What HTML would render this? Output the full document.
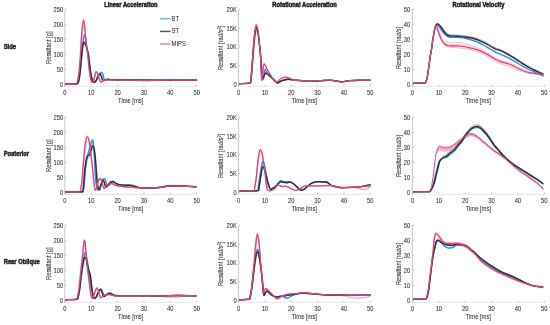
<!DOCTYPE html><html><head><meta charset="utf-8"><title>Figure</title>
<style>html,body{margin:0;padding:0;background:#fff;}svg{display:block;}text{font-family:'Liberation Sans', Arial, Helvetica, sans-serif;fill:#2e2e2e;stroke:#2e2e2e;stroke-width:0.05px;}</style></head><body>
<svg width="550" height="325" viewBox="0 0 550 325">
<rect width="550" height="325" fill="#fff"/>
<text transform="translate(130.90 7.40) scale(1 1.170)" font-size="5.80" text-anchor="middle" font-weight="bold" style="stroke-width:0.4px;fill:#1c1c1c;stroke:#1c1c1c">Linear Acceleration</text>
<text transform="translate(304.50 7.40) scale(1 1.170)" font-size="5.80" text-anchor="middle" font-weight="bold" style="stroke-width:0.4px;fill:#1c1c1c;stroke:#1c1c1c">Rotational Acceleration</text>
<text transform="translate(478.50 7.40) scale(1 1.170)" font-size="5.80" text-anchor="middle" font-weight="bold" style="stroke-width:0.4px;fill:#1c1c1c;stroke:#1c1c1c">Rotational Velocity</text>
<text transform="translate(3.70 48.60) scale(1 1.170)" font-size="5.80" font-weight="bold" style="stroke-width:0.4px;fill:#1c1c1c;stroke:#1c1c1c">Side</text>
<text transform="translate(3.70 155.60) scale(1 1.170)" font-size="5.80" font-weight="bold" style="stroke-width:0.4px;fill:#1c1c1c;stroke:#1c1c1c">Posterior</text>
<text transform="translate(3.70 263.60) scale(1 1.170)" font-size="5.80" font-weight="bold" style="stroke-width:0.4px;fill:#1c1c1c;stroke:#1c1c1c">Rear Oblique</text>
<path d="M64.80 86.40H197.00" fill="none" stroke="#e6e6e6" stroke-width="0.9"/>
<path d="M64.80 9.10V86.80" fill="none" stroke="#c8c8c8" stroke-width="1.0"/>
<path d="M65.20 84.20h1.3M65.20 69.20h1.3M65.20 54.20h1.3M65.20 39.20h1.3M65.20 24.20h1.3M65.20 9.20h1.3M64.90 86.10v-1.3M91.26 86.10v-1.3M117.62 86.10v-1.3M143.98 86.10v-1.3M170.34 86.10v-1.3M196.70 86.10v-1.3" fill="none" stroke="#a8a8a8" stroke-width="0.8"/>
<text transform="translate(63.20 86.80) scale(1 1.170)" font-size="5.80" text-anchor="end">0</text>
<text transform="translate(63.20 71.80) scale(1 1.170)" font-size="5.80" text-anchor="end">50</text>
<text transform="translate(63.20 56.80) scale(1 1.170)" font-size="5.80" text-anchor="end">100</text>
<text transform="translate(63.20 41.80) scale(1 1.170)" font-size="5.80" text-anchor="end">150</text>
<text transform="translate(63.20 26.80) scale(1 1.170)" font-size="5.80" text-anchor="end">200</text>
<text transform="translate(63.20 11.80) scale(1 1.170)" font-size="5.80" text-anchor="end">250</text>
<text transform="translate(64.90 95.30) scale(1 1.170)" font-size="5.80" text-anchor="middle">0</text>
<text transform="translate(91.26 95.30) scale(1 1.170)" font-size="5.80" text-anchor="middle">10</text>
<text transform="translate(117.62 95.30) scale(1 1.170)" font-size="5.80" text-anchor="middle">20</text>
<text transform="translate(143.98 95.30) scale(1 1.170)" font-size="5.80" text-anchor="middle">30</text>
<text transform="translate(170.34 95.30) scale(1 1.170)" font-size="5.80" text-anchor="middle">40</text>
<text transform="translate(196.70 95.30) scale(1 1.170)" font-size="5.80" text-anchor="middle">50</text>
<text transform="translate(130.70 102.50) scale(1 1.170)" font-size="5.80" text-anchor="middle">Time [ms]</text>
<text transform="translate(51.40 47.70) rotate(-90) scale(1 1.170)" font-size="5.80" text-anchor="middle">Resultant [g]</text>
<path d="M238.40 86.40H370.60" fill="none" stroke="#e6e6e6" stroke-width="0.9"/>
<path d="M238.40 9.10V86.80" fill="none" stroke="#c8c8c8" stroke-width="1.0"/>
<path d="M238.80 84.20h1.3M238.80 65.45h1.3M238.80 46.70h1.3M238.80 27.95h1.3M238.80 9.20h1.3M238.50 86.10v-1.3M264.86 86.10v-1.3M291.22 86.10v-1.3M317.58 86.10v-1.3M343.94 86.10v-1.3M370.30 86.10v-1.3" fill="none" stroke="#a8a8a8" stroke-width="0.8"/>
<text transform="translate(236.80 86.80) scale(1 1.170)" font-size="5.80" text-anchor="end">0</text>
<text transform="translate(236.80 68.05) scale(1 1.170)" font-size="5.80" text-anchor="end">5K</text>
<text transform="translate(236.80 49.30) scale(1 1.170)" font-size="5.80" text-anchor="end">10K</text>
<text transform="translate(236.80 30.55) scale(1 1.170)" font-size="5.80" text-anchor="end">15K</text>
<text transform="translate(236.80 11.80) scale(1 1.170)" font-size="5.80" text-anchor="end">20K</text>
<text transform="translate(238.50 95.30) scale(1 1.170)" font-size="5.80" text-anchor="middle">0</text>
<text transform="translate(264.86 95.30) scale(1 1.170)" font-size="5.80" text-anchor="middle">10</text>
<text transform="translate(291.22 95.30) scale(1 1.170)" font-size="5.80" text-anchor="middle">20</text>
<text transform="translate(317.58 95.30) scale(1 1.170)" font-size="5.80" text-anchor="middle">30</text>
<text transform="translate(343.94 95.30) scale(1 1.170)" font-size="5.80" text-anchor="middle">40</text>
<text transform="translate(370.30 95.30) scale(1 1.170)" font-size="5.80" text-anchor="middle">50</text>
<text transform="translate(304.30 102.50) scale(1 1.170)" font-size="5.80" text-anchor="middle">Time [ms]</text>
<text transform="translate(223.40 47.90) rotate(-90) scale(1 1.170)" font-size="5.80" text-anchor="middle">Resultant [rad/s<tspan font-size="4.06" dy="-2">2</tspan><tspan dy="2">]</tspan></text>
<path d="M412.40 86.40H544.60" fill="none" stroke="#e6e6e6" stroke-width="0.9"/>
<path d="M412.40 9.10V86.80" fill="none" stroke="#c8c8c8" stroke-width="1.0"/>
<path d="M412.80 84.20h1.3M412.80 69.20h1.3M412.80 54.20h1.3M412.80 39.20h1.3M412.80 24.20h1.3M412.80 9.20h1.3M412.50 86.10v-1.3M438.86 86.10v-1.3M465.22 86.10v-1.3M491.58 86.10v-1.3M517.94 86.10v-1.3M544.30 86.10v-1.3" fill="none" stroke="#a8a8a8" stroke-width="0.8"/>
<text transform="translate(410.30 86.80) scale(1 1.170)" font-size="5.80" text-anchor="end">0</text>
<text transform="translate(410.30 71.80) scale(1 1.170)" font-size="5.80" text-anchor="end">10</text>
<text transform="translate(410.30 56.80) scale(1 1.170)" font-size="5.80" text-anchor="end">20</text>
<text transform="translate(410.30 41.80) scale(1 1.170)" font-size="5.80" text-anchor="end">30</text>
<text transform="translate(410.30 26.80) scale(1 1.170)" font-size="5.80" text-anchor="end">40</text>
<text transform="translate(410.30 11.80) scale(1 1.170)" font-size="5.80" text-anchor="end">50</text>
<text transform="translate(412.50 95.30) scale(1 1.170)" font-size="5.80" text-anchor="middle">0</text>
<text transform="translate(438.86 95.30) scale(1 1.170)" font-size="5.80" text-anchor="middle">10</text>
<text transform="translate(465.22 95.30) scale(1 1.170)" font-size="5.80" text-anchor="middle">20</text>
<text transform="translate(491.58 95.30) scale(1 1.170)" font-size="5.80" text-anchor="middle">30</text>
<text transform="translate(517.94 95.30) scale(1 1.170)" font-size="5.80" text-anchor="middle">40</text>
<text transform="translate(544.30 95.30) scale(1 1.170)" font-size="5.80" text-anchor="middle">50</text>
<text transform="translate(478.30 102.50) scale(1 1.170)" font-size="5.80" text-anchor="middle">Time [ms]</text>
<text transform="translate(400.80 48.00) rotate(-90) scale(1 1.170)" font-size="5.80" text-anchor="middle">Resultant [rad/s]</text>
<path d="M64.80 194.40H197.00" fill="none" stroke="#e6e6e6" stroke-width="0.9"/>
<path d="M64.80 117.10V194.80" fill="none" stroke="#c8c8c8" stroke-width="1.0"/>
<path d="M65.20 192.20h1.3M65.20 177.20h1.3M65.20 162.20h1.3M65.20 147.20h1.3M65.20 132.20h1.3M65.20 117.20h1.3M64.90 194.10v-1.3M91.26 194.10v-1.3M117.62 194.10v-1.3M143.98 194.10v-1.3M170.34 194.10v-1.3M196.70 194.10v-1.3" fill="none" stroke="#a8a8a8" stroke-width="0.8"/>
<text transform="translate(63.20 194.80) scale(1 1.170)" font-size="5.80" text-anchor="end">0</text>
<text transform="translate(63.20 179.80) scale(1 1.170)" font-size="5.80" text-anchor="end">50</text>
<text transform="translate(63.20 164.80) scale(1 1.170)" font-size="5.80" text-anchor="end">100</text>
<text transform="translate(63.20 149.80) scale(1 1.170)" font-size="5.80" text-anchor="end">150</text>
<text transform="translate(63.20 134.80) scale(1 1.170)" font-size="5.80" text-anchor="end">200</text>
<text transform="translate(63.20 119.80) scale(1 1.170)" font-size="5.80" text-anchor="end">250</text>
<text transform="translate(64.90 203.30) scale(1 1.170)" font-size="5.80" text-anchor="middle">0</text>
<text transform="translate(91.26 203.30) scale(1 1.170)" font-size="5.80" text-anchor="middle">10</text>
<text transform="translate(117.62 203.30) scale(1 1.170)" font-size="5.80" text-anchor="middle">20</text>
<text transform="translate(143.98 203.30) scale(1 1.170)" font-size="5.80" text-anchor="middle">30</text>
<text transform="translate(170.34 203.30) scale(1 1.170)" font-size="5.80" text-anchor="middle">40</text>
<text transform="translate(196.70 203.30) scale(1 1.170)" font-size="5.80" text-anchor="middle">50</text>
<text transform="translate(130.70 210.50) scale(1 1.170)" font-size="5.80" text-anchor="middle">Time [ms]</text>
<text transform="translate(51.40 155.70) rotate(-90) scale(1 1.170)" font-size="5.80" text-anchor="middle">Resultant [g]</text>
<path d="M238.40 194.40H370.60" fill="none" stroke="#e6e6e6" stroke-width="0.9"/>
<path d="M238.40 117.10V194.80" fill="none" stroke="#c8c8c8" stroke-width="1.0"/>
<path d="M238.80 192.20h1.3M238.80 173.45h1.3M238.80 154.70h1.3M238.80 135.95h1.3M238.80 117.20h1.3M238.50 194.10v-1.3M264.86 194.10v-1.3M291.22 194.10v-1.3M317.58 194.10v-1.3M343.94 194.10v-1.3M370.30 194.10v-1.3" fill="none" stroke="#a8a8a8" stroke-width="0.8"/>
<text transform="translate(236.80 194.80) scale(1 1.170)" font-size="5.80" text-anchor="end">0</text>
<text transform="translate(236.80 176.05) scale(1 1.170)" font-size="5.80" text-anchor="end">5K</text>
<text transform="translate(236.80 157.30) scale(1 1.170)" font-size="5.80" text-anchor="end">10K</text>
<text transform="translate(236.80 138.55) scale(1 1.170)" font-size="5.80" text-anchor="end">15K</text>
<text transform="translate(236.80 119.80) scale(1 1.170)" font-size="5.80" text-anchor="end">20K</text>
<text transform="translate(238.50 203.30) scale(1 1.170)" font-size="5.80" text-anchor="middle">0</text>
<text transform="translate(264.86 203.30) scale(1 1.170)" font-size="5.80" text-anchor="middle">10</text>
<text transform="translate(291.22 203.30) scale(1 1.170)" font-size="5.80" text-anchor="middle">20</text>
<text transform="translate(317.58 203.30) scale(1 1.170)" font-size="5.80" text-anchor="middle">30</text>
<text transform="translate(343.94 203.30) scale(1 1.170)" font-size="5.80" text-anchor="middle">40</text>
<text transform="translate(370.30 203.30) scale(1 1.170)" font-size="5.80" text-anchor="middle">50</text>
<text transform="translate(304.30 210.50) scale(1 1.170)" font-size="5.80" text-anchor="middle">Time [ms]</text>
<text transform="translate(223.40 155.90) rotate(-90) scale(1 1.170)" font-size="5.80" text-anchor="middle">Resultant [rad/s<tspan font-size="4.06" dy="-2">2</tspan><tspan dy="2">]</tspan></text>
<path d="M412.40 194.40H544.60" fill="none" stroke="#e6e6e6" stroke-width="0.9"/>
<path d="M412.40 117.10V194.80" fill="none" stroke="#c8c8c8" stroke-width="1.0"/>
<path d="M412.80 192.20h1.3M412.80 177.20h1.3M412.80 162.20h1.3M412.80 147.20h1.3M412.80 132.20h1.3M412.80 117.20h1.3M412.50 194.10v-1.3M438.86 194.10v-1.3M465.22 194.10v-1.3M491.58 194.10v-1.3M517.94 194.10v-1.3M544.30 194.10v-1.3" fill="none" stroke="#a8a8a8" stroke-width="0.8"/>
<text transform="translate(410.30 194.80) scale(1 1.170)" font-size="5.80" text-anchor="end">0</text>
<text transform="translate(410.30 179.80) scale(1 1.170)" font-size="5.80" text-anchor="end">10</text>
<text transform="translate(410.30 164.80) scale(1 1.170)" font-size="5.80" text-anchor="end">20</text>
<text transform="translate(410.30 149.80) scale(1 1.170)" font-size="5.80" text-anchor="end">30</text>
<text transform="translate(410.30 134.80) scale(1 1.170)" font-size="5.80" text-anchor="end">40</text>
<text transform="translate(410.30 119.80) scale(1 1.170)" font-size="5.80" text-anchor="end">50</text>
<text transform="translate(412.50 203.30) scale(1 1.170)" font-size="5.80" text-anchor="middle">0</text>
<text transform="translate(438.86 203.30) scale(1 1.170)" font-size="5.80" text-anchor="middle">10</text>
<text transform="translate(465.22 203.30) scale(1 1.170)" font-size="5.80" text-anchor="middle">20</text>
<text transform="translate(491.58 203.30) scale(1 1.170)" font-size="5.80" text-anchor="middle">30</text>
<text transform="translate(517.94 203.30) scale(1 1.170)" font-size="5.80" text-anchor="middle">40</text>
<text transform="translate(544.30 203.30) scale(1 1.170)" font-size="5.80" text-anchor="middle">50</text>
<text transform="translate(478.30 210.50) scale(1 1.170)" font-size="5.80" text-anchor="middle">Time [ms]</text>
<text transform="translate(400.80 156.00) rotate(-90) scale(1 1.170)" font-size="5.80" text-anchor="middle">Resultant [rad/s]</text>
<path d="M64.80 302.40H197.00" fill="none" stroke="#e6e6e6" stroke-width="0.9"/>
<path d="M64.80 225.10V302.80" fill="none" stroke="#c8c8c8" stroke-width="1.0"/>
<path d="M65.20 300.20h1.3M65.20 285.20h1.3M65.20 270.20h1.3M65.20 255.20h1.3M65.20 240.20h1.3M65.20 225.20h1.3M64.90 302.10v-1.3M91.26 302.10v-1.3M117.62 302.10v-1.3M143.98 302.10v-1.3M170.34 302.10v-1.3M196.70 302.10v-1.3" fill="none" stroke="#a8a8a8" stroke-width="0.8"/>
<text transform="translate(63.20 302.80) scale(1 1.170)" font-size="5.80" text-anchor="end">0</text>
<text transform="translate(63.20 287.80) scale(1 1.170)" font-size="5.80" text-anchor="end">50</text>
<text transform="translate(63.20 272.80) scale(1 1.170)" font-size="5.80" text-anchor="end">100</text>
<text transform="translate(63.20 257.80) scale(1 1.170)" font-size="5.80" text-anchor="end">150</text>
<text transform="translate(63.20 242.80) scale(1 1.170)" font-size="5.80" text-anchor="end">200</text>
<text transform="translate(63.20 227.80) scale(1 1.170)" font-size="5.80" text-anchor="end">250</text>
<text transform="translate(64.90 311.30) scale(1 1.170)" font-size="5.80" text-anchor="middle">0</text>
<text transform="translate(91.26 311.30) scale(1 1.170)" font-size="5.80" text-anchor="middle">10</text>
<text transform="translate(117.62 311.30) scale(1 1.170)" font-size="5.80" text-anchor="middle">20</text>
<text transform="translate(143.98 311.30) scale(1 1.170)" font-size="5.80" text-anchor="middle">30</text>
<text transform="translate(170.34 311.30) scale(1 1.170)" font-size="5.80" text-anchor="middle">40</text>
<text transform="translate(196.70 311.30) scale(1 1.170)" font-size="5.80" text-anchor="middle">50</text>
<text transform="translate(130.70 318.50) scale(1 1.170)" font-size="5.80" text-anchor="middle">Time [ms]</text>
<text transform="translate(51.40 263.70) rotate(-90) scale(1 1.170)" font-size="5.80" text-anchor="middle">Resultant [g]</text>
<path d="M238.40 302.40H370.60" fill="none" stroke="#e6e6e6" stroke-width="0.9"/>
<path d="M238.40 225.10V302.80" fill="none" stroke="#c8c8c8" stroke-width="1.0"/>
<path d="M238.80 300.20h1.3M238.80 281.45h1.3M238.80 262.70h1.3M238.80 243.95h1.3M238.80 225.20h1.3M238.50 302.10v-1.3M264.86 302.10v-1.3M291.22 302.10v-1.3M317.58 302.10v-1.3M343.94 302.10v-1.3M370.30 302.10v-1.3" fill="none" stroke="#a8a8a8" stroke-width="0.8"/>
<text transform="translate(236.80 302.80) scale(1 1.170)" font-size="5.80" text-anchor="end">0</text>
<text transform="translate(236.80 284.05) scale(1 1.170)" font-size="5.80" text-anchor="end">5K</text>
<text transform="translate(236.80 265.30) scale(1 1.170)" font-size="5.80" text-anchor="end">10K</text>
<text transform="translate(236.80 246.55) scale(1 1.170)" font-size="5.80" text-anchor="end">15K</text>
<text transform="translate(236.80 227.80) scale(1 1.170)" font-size="5.80" text-anchor="end">20K</text>
<text transform="translate(238.50 311.30) scale(1 1.170)" font-size="5.80" text-anchor="middle">0</text>
<text transform="translate(264.86 311.30) scale(1 1.170)" font-size="5.80" text-anchor="middle">10</text>
<text transform="translate(291.22 311.30) scale(1 1.170)" font-size="5.80" text-anchor="middle">20</text>
<text transform="translate(317.58 311.30) scale(1 1.170)" font-size="5.80" text-anchor="middle">30</text>
<text transform="translate(343.94 311.30) scale(1 1.170)" font-size="5.80" text-anchor="middle">40</text>
<text transform="translate(370.30 311.30) scale(1 1.170)" font-size="5.80" text-anchor="middle">50</text>
<text transform="translate(304.30 318.50) scale(1 1.170)" font-size="5.80" text-anchor="middle">Time [ms]</text>
<text transform="translate(223.40 263.90) rotate(-90) scale(1 1.170)" font-size="5.80" text-anchor="middle">Resultant [rad/s<tspan font-size="4.06" dy="-2">2</tspan><tspan dy="2">]</tspan></text>
<path d="M412.40 302.40H544.60" fill="none" stroke="#e6e6e6" stroke-width="0.9"/>
<path d="M412.40 225.10V302.80" fill="none" stroke="#c8c8c8" stroke-width="1.0"/>
<path d="M412.80 300.20h1.3M412.80 285.20h1.3M412.80 270.20h1.3M412.80 255.20h1.3M412.80 240.20h1.3M412.80 225.20h1.3M412.50 302.10v-1.3M438.86 302.10v-1.3M465.22 302.10v-1.3M491.58 302.10v-1.3M517.94 302.10v-1.3M544.30 302.10v-1.3" fill="none" stroke="#a8a8a8" stroke-width="0.8"/>
<text transform="translate(410.30 302.80) scale(1 1.170)" font-size="5.80" text-anchor="end">0</text>
<text transform="translate(410.30 287.80) scale(1 1.170)" font-size="5.80" text-anchor="end">10</text>
<text transform="translate(410.30 272.80) scale(1 1.170)" font-size="5.80" text-anchor="end">20</text>
<text transform="translate(410.30 257.80) scale(1 1.170)" font-size="5.80" text-anchor="end">30</text>
<text transform="translate(410.30 242.80) scale(1 1.170)" font-size="5.80" text-anchor="end">40</text>
<text transform="translate(410.30 227.80) scale(1 1.170)" font-size="5.80" text-anchor="end">50</text>
<text transform="translate(412.50 311.30) scale(1 1.170)" font-size="5.80" text-anchor="middle">0</text>
<text transform="translate(438.86 311.30) scale(1 1.170)" font-size="5.80" text-anchor="middle">10</text>
<text transform="translate(465.22 311.30) scale(1 1.170)" font-size="5.80" text-anchor="middle">20</text>
<text transform="translate(491.58 311.30) scale(1 1.170)" font-size="5.80" text-anchor="middle">30</text>
<text transform="translate(517.94 311.30) scale(1 1.170)" font-size="5.80" text-anchor="middle">40</text>
<text transform="translate(544.30 311.30) scale(1 1.170)" font-size="5.80" text-anchor="middle">50</text>
<text transform="translate(478.30 318.50) scale(1 1.170)" font-size="5.80" text-anchor="middle">Time [ms]</text>
<text transform="translate(400.80 264.00) rotate(-90) scale(1 1.170)" font-size="5.80" text-anchor="middle">Resultant [rad/s]</text>
<path d="M65.25 83.90C69.32 83.90 73.38 83.90 77.45 83.90C77.92 83.90 78.38 82.53 78.85 81.14C79.32 79.76 79.78 76.06 80.25 72.59C80.75 68.89 81.25 63.10 81.75 58.34C82.18 54.23 82.62 49.32 83.05 46.00C83.42 43.19 83.78 40.08 84.15 38.87C84.38 38.10 84.62 37.26 84.85 37.26C85.15 37.26 85.45 38.61 85.75 39.82C86.08 41.17 86.42 44.61 86.75 46.95C87.12 49.52 87.48 52.29 87.85 54.55C88.25 57.01 88.65 58.79 89.05 61.20C89.48 63.80 89.92 67.16 90.35 69.75C90.82 72.52 91.28 75.67 91.75 77.34C92.25 79.14 92.75 80.81 93.25 81.34C93.85 81.96 94.45 82.48 95.05 82.48C95.52 82.48 95.98 81.75 96.45 81.14C96.98 80.46 97.52 78.92 98.05 77.82C98.72 76.45 99.38 74.12 100.05 73.73C100.72 73.35 101.38 73.07 102.05 73.07C102.45 73.07 102.85 74.31 103.25 75.25C103.68 76.28 104.12 79.45 104.55 79.72C105.12 80.08 105.68 80.29 106.25 80.29C106.92 80.29 107.58 79.25 108.25 79.25C109.25 79.25 110.25 80.10 111.25 80.10C112.58 80.10 113.92 79.62 115.25 79.62C116.92 79.62 118.58 80.28 120.25 80.29C145.92 80.38 171.58 80.35 197.25 80.38" fill="none" stroke="#86c0f2" stroke-width="0.6"/>
<path d="M64.80 83.90C68.87 83.90 72.93 83.90 77.00 83.90C77.47 83.90 77.93 82.43 78.40 80.93C78.87 79.43 79.33 75.44 79.80 71.70C80.30 67.70 80.80 61.45 81.30 56.33C81.73 51.89 82.17 46.59 82.60 43.00C82.97 39.97 83.33 36.62 83.70 35.32C83.93 34.49 84.17 33.57 84.40 33.57C84.70 33.57 85.00 35.03 85.30 36.34C85.63 37.79 85.97 41.50 86.30 44.03C86.67 46.80 87.03 49.79 87.40 52.23C87.80 54.89 88.20 56.81 88.60 59.40C89.03 62.21 89.47 65.84 89.90 68.63C90.37 71.63 90.83 75.02 91.30 76.83C91.80 78.76 92.30 80.57 92.80 81.13C93.40 81.81 94.00 82.36 94.60 82.36C95.07 82.36 95.53 81.58 96.00 80.93C96.53 80.18 97.07 78.53 97.60 77.34C98.27 75.86 98.93 73.34 99.60 72.93C100.27 72.52 100.93 72.22 101.60 72.22C102.00 72.22 102.40 73.55 102.80 74.57C103.23 75.68 103.67 79.09 104.10 79.39C104.67 79.78 105.23 80.00 105.80 80.00C106.47 80.00 107.13 78.88 107.80 78.88C108.80 78.88 109.80 79.80 110.80 79.80C112.13 79.80 113.47 79.29 114.80 79.29C116.47 79.29 118.13 80.00 119.80 80.00C145.47 80.10 171.13 80.07 196.80 80.11" fill="none" stroke="#86c0f2" stroke-width="0.6"/>
<path d="M65.30 83.90C69.37 83.90 73.43 83.90 77.50 83.90C78.00 83.90 78.50 82.57 79.00 81.17C79.43 79.96 79.87 76.86 80.30 73.65C80.70 70.69 81.10 65.34 81.50 61.43C81.87 57.85 82.23 53.69 82.60 51.09C82.90 48.97 83.20 46.64 83.50 45.92C83.77 45.29 84.03 44.70 84.30 44.70C84.63 44.70 84.97 45.27 85.30 45.74C85.83 46.49 86.37 48.16 86.90 49.68C87.50 51.40 88.10 52.95 88.70 55.89C89.17 58.17 89.63 63.67 90.10 67.07C90.57 70.48 91.03 74.44 91.50 76.47C91.93 78.37 92.37 79.94 92.80 80.70C93.30 81.59 93.80 82.49 94.30 82.49C94.90 82.49 95.50 81.82 96.10 81.17C96.77 80.46 97.43 77.98 98.10 76.94C98.73 75.96 99.37 74.59 100.00 74.59C100.53 74.59 101.07 75.56 101.60 76.47C102.07 77.27 102.53 80.70 103.00 80.70C103.60 80.70 104.20 80.61 104.80 80.52C105.63 80.39 106.47 79.67 107.30 79.67C109.97 79.67 112.63 80.12 115.30 80.14C142.63 80.37 169.97 80.33 197.30 80.42" fill="none" stroke="#8f8f8f" stroke-width="0.6"/>
<path d="M64.75 83.90C68.82 83.90 72.88 83.90 76.95 83.90C77.45 83.90 77.95 82.45 78.45 80.93C78.88 79.60 79.32 76.23 79.75 72.73C80.15 69.50 80.55 63.66 80.95 59.40C81.32 55.50 81.68 50.96 82.05 48.13C82.35 45.81 82.65 43.27 82.95 42.49C83.22 41.80 83.48 41.16 83.75 41.16C84.08 41.16 84.42 41.77 84.75 42.29C85.28 43.11 85.82 44.92 86.35 46.59C86.95 48.47 87.55 50.15 88.15 53.36C88.62 55.85 89.08 61.84 89.55 65.55C90.02 69.27 90.48 73.58 90.95 75.80C91.38 77.86 91.82 79.58 92.25 80.42C92.75 81.38 93.25 82.36 93.75 82.36C94.35 82.36 94.95 81.63 95.55 80.93C96.22 80.14 96.88 77.45 97.55 76.31C98.18 75.24 98.82 73.75 99.45 73.75C99.98 73.75 100.52 74.81 101.05 75.80C101.52 76.67 101.98 80.42 102.45 80.42C103.05 80.42 103.65 80.31 104.25 80.21C105.08 80.07 105.92 79.29 106.75 79.29C109.42 79.29 112.08 79.78 114.75 79.80C142.08 80.06 169.42 80.00 196.75 80.11" fill="none" stroke="#8f8f8f" stroke-width="0.6"/>
<path d="M65.35 83.90C69.08 83.90 72.82 83.90 76.55 83.90C76.98 83.90 77.42 82.47 77.85 81.20C78.28 79.93 78.72 77.61 79.15 74.69C79.65 71.33 80.15 65.17 80.65 58.88C81.02 54.27 81.38 46.80 81.75 42.14C82.15 37.06 82.55 31.51 82.95 29.12C83.28 27.14 83.62 24.94 83.95 24.94C84.25 24.94 84.55 26.57 84.85 28.19C85.18 30.00 85.52 36.08 85.85 39.35C86.15 42.30 86.45 44.93 86.75 47.26C87.18 50.62 87.62 52.75 88.05 56.19C88.52 59.89 88.98 65.78 89.45 69.39C89.92 73.01 90.38 76.69 90.85 78.60C91.22 80.10 91.58 81.60 91.95 81.95C92.28 82.26 92.62 82.51 92.95 82.51C93.55 82.51 94.15 79.61 94.75 77.95C95.35 76.29 95.95 72.46 96.55 72.46C97.08 72.46 97.62 73.68 98.15 74.69C98.72 75.77 99.28 78.66 99.85 79.81C100.35 80.82 100.85 82.13 101.35 82.13C101.95 82.13 102.55 81.48 103.15 81.20C103.92 80.85 104.68 80.30 105.45 80.27C107.08 80.21 108.72 80.18 110.35 80.18C117.02 80.18 123.68 80.33 130.35 80.46C136.02 80.56 141.68 80.92 147.35 80.92C151.68 80.92 156.02 80.27 160.35 80.27C172.68 80.27 185.02 80.40 197.35 80.46" fill="none" stroke="#ec8db2" stroke-width="0.6"/>
<path d="M64.80 83.90C68.53 83.90 72.27 83.90 76.00 83.90C76.43 83.90 76.87 82.34 77.30 80.94C77.73 79.55 78.17 77.00 78.60 73.80C79.10 70.11 79.60 63.36 80.10 56.46C80.47 51.41 80.83 43.21 81.20 38.10C81.60 32.53 82.00 26.44 82.40 23.82C82.73 21.64 83.07 19.23 83.40 19.23C83.70 19.23 84.00 21.02 84.30 22.80C84.63 24.78 84.97 31.46 85.30 35.04C85.60 38.27 85.90 41.16 86.20 43.71C86.63 47.40 87.07 49.73 87.50 53.50C87.97 57.56 88.43 64.02 88.90 67.99C89.37 71.95 89.83 75.99 90.30 78.09C90.67 79.74 91.03 81.38 91.40 81.76C91.73 82.10 92.07 82.37 92.40 82.37C93.00 82.37 93.60 79.19 94.20 77.37C94.80 75.55 95.40 71.35 96.00 71.35C96.53 71.35 97.07 72.69 97.60 73.80C98.17 74.98 98.73 78.15 99.30 79.41C99.80 80.53 100.30 81.96 100.80 81.96C101.40 81.96 102.00 81.24 102.60 80.94C103.37 80.56 104.13 79.96 104.90 79.92C106.53 79.85 108.17 79.82 109.80 79.82C116.47 79.82 123.13 79.99 129.80 80.13C135.47 80.24 141.13 80.64 146.80 80.64C151.13 80.64 155.47 79.92 159.80 79.92C172.13 79.92 184.47 80.06 196.80 80.13" fill="none" stroke="#ec8db2" stroke-width="0.6"/>
<path d="M65.00 83.90C69.07 83.90 73.13 83.90 77.20 83.90C77.67 83.90 78.13 82.46 78.60 81.00C79.07 79.54 79.53 75.64 80.00 72.00C80.50 68.10 81.00 62.00 81.50 57.00C81.93 52.67 82.37 47.50 82.80 44.00C83.17 41.04 83.53 37.77 83.90 36.50C84.13 35.69 84.37 34.80 84.60 34.80C84.90 34.80 85.20 36.22 85.50 37.50C85.83 38.92 86.17 42.54 86.50 45.00C86.87 47.71 87.23 50.62 87.60 53.00C88.00 55.59 88.40 57.47 88.80 60.00C89.23 62.74 89.67 66.28 90.10 69.00C90.57 71.93 91.03 75.24 91.50 77.00C92.00 78.89 92.50 80.65 93.00 81.20C93.60 81.86 94.20 82.40 94.80 82.40C95.27 82.40 95.73 81.64 96.20 81.00C96.73 80.27 97.27 78.66 97.80 77.50C98.47 76.05 99.13 73.60 99.80 73.20C100.47 72.80 101.13 72.50 101.80 72.50C102.20 72.50 102.60 73.80 103.00 74.80C103.43 75.88 103.87 79.21 104.30 79.50C104.87 79.88 105.43 80.10 106.00 80.10C106.67 80.10 107.33 79.00 108.00 79.00C109.00 79.00 110.00 79.90 111.00 79.90C112.33 79.90 113.67 79.40 115.00 79.40C116.67 79.40 118.33 80.09 120.00 80.10C145.67 80.19 171.33 80.17 197.00 80.20" fill="none" stroke="#2f8ae4" stroke-width="1.30" stroke-linejoin="round"/>
<path d="M65.00 83.90C69.07 83.90 73.13 83.90 77.20 83.90C77.70 83.90 78.20 82.49 78.70 81.00C79.13 79.71 79.57 76.41 80.00 73.00C80.40 69.85 80.80 64.16 81.20 60.00C81.57 56.19 81.93 51.76 82.30 49.00C82.60 46.74 82.90 44.26 83.20 43.50C83.47 42.82 83.73 42.20 84.00 42.20C84.33 42.20 84.67 42.80 85.00 43.30C85.53 44.10 86.07 45.87 86.60 47.50C87.20 49.33 87.80 50.97 88.40 54.10C88.87 56.53 89.33 62.38 89.80 66.00C90.27 69.62 90.73 73.83 91.20 76.00C91.63 78.01 92.07 79.69 92.50 80.50C93.00 81.44 93.50 82.40 94.00 82.40C94.60 82.40 95.20 81.69 95.80 81.00C96.47 80.24 97.13 77.60 97.80 76.50C98.43 75.45 99.07 74.00 99.70 74.00C100.23 74.00 100.77 75.03 101.30 76.00C101.77 76.85 102.23 80.50 102.70 80.50C103.30 80.50 103.90 80.40 104.50 80.30C105.33 80.16 106.17 79.40 107.00 79.40C109.67 79.40 112.33 79.88 115.00 79.90C142.33 80.15 169.67 80.10 197.00 80.20" fill="none" stroke="#303030" stroke-width="1.40" stroke-linejoin="round"/>
<path d="M65.00 83.90C68.73 83.90 72.47 83.90 76.20 83.90C76.63 83.90 77.07 82.37 77.50 81.00C77.93 79.63 78.37 77.14 78.80 74.00C79.30 70.38 79.80 63.76 80.30 57.00C80.67 52.04 81.03 44.01 81.40 39.00C81.80 33.54 82.20 27.56 82.60 25.00C82.93 22.86 83.27 20.50 83.60 20.50C83.90 20.50 84.20 22.25 84.50 24.00C84.83 25.94 85.17 32.48 85.50 36.00C85.80 39.16 86.10 41.99 86.40 44.50C86.83 48.12 87.27 50.40 87.70 54.10C88.17 58.08 88.63 64.41 89.10 68.30C89.57 72.19 90.03 76.14 90.50 78.20C90.87 79.82 91.23 81.43 91.60 81.80C91.93 82.13 92.27 82.40 92.60 82.40C93.20 82.40 93.80 79.28 94.40 77.50C95.00 75.72 95.60 71.60 96.20 71.60C96.73 71.60 97.27 72.91 97.80 74.00C98.37 75.16 98.93 78.26 99.50 79.50C100.00 80.59 100.50 82.00 101.00 82.00C101.60 82.00 102.20 81.29 102.80 81.00C103.57 80.62 104.33 80.03 105.10 80.00C106.73 79.93 108.37 79.90 110.00 79.90C116.67 79.90 123.33 80.07 130.00 80.20C135.67 80.31 141.33 80.70 147.00 80.70C151.33 80.70 155.67 80.00 160.00 80.00C172.33 80.00 184.67 80.13 197.00 80.20" fill="none" stroke="#e2447f" stroke-width="1.30" stroke-linejoin="round"/>
<path d="M239.25 83.70C242.78 83.54 246.32 83.62 249.85 83.23C250.18 83.19 250.52 82.97 250.85 82.56C251.18 82.15 251.52 76.67 251.85 73.16C252.18 69.64 252.52 65.29 252.85 61.19C253.15 57.49 253.45 53.22 253.75 49.79C254.12 45.59 254.48 41.21 254.85 38.39C255.18 35.82 255.52 33.43 255.85 32.21C256.15 31.11 256.45 29.84 256.75 29.84C257.05 29.84 257.35 30.82 257.65 31.73C257.98 32.75 258.32 35.16 258.65 37.44C258.98 39.72 259.32 43.15 259.65 45.98C259.95 48.53 260.25 50.43 260.55 53.59C260.78 56.04 261.02 60.13 261.25 63.09C261.52 66.47 261.78 70.69 262.05 72.59C262.55 76.13 263.05 79.71 263.55 79.71C263.88 79.71 264.22 73.93 264.55 72.59C264.85 71.37 265.15 70.02 265.45 70.02C265.88 70.02 266.32 71.37 266.75 72.11C267.25 72.97 267.75 74.21 268.25 74.87C269.08 75.96 269.92 76.69 270.75 77.34C271.75 78.11 272.75 78.39 273.75 79.23C274.42 79.80 275.08 80.99 275.75 81.61C276.45 82.26 277.15 83.23 277.85 83.23C278.65 83.23 279.45 82.31 280.25 81.89C281.15 81.43 282.05 80.81 282.95 80.57C284.78 80.07 286.62 79.62 288.45 79.62C290.62 79.62 292.78 80.07 294.95 80.28C297.38 80.51 299.82 80.78 302.25 80.95C305.22 81.15 308.18 81.42 311.15 81.42C314.18 81.42 317.22 80.99 320.25 80.85C323.68 80.69 327.12 80.47 330.55 80.47C332.45 80.47 334.35 81.00 336.25 81.23C338.32 81.48 340.38 81.90 342.45 81.90C344.95 81.90 347.45 80.88 349.95 80.76C353.38 80.59 356.82 80.47 360.25 80.47C363.75 80.47 367.25 80.47 370.75 80.47" fill="none" stroke="#86c0f2" stroke-width="0.6"/>
<path d="M238.80 83.70C242.33 83.53 245.87 83.61 249.40 83.19C249.73 83.15 250.07 82.92 250.40 82.47C250.73 82.02 251.07 76.11 251.40 72.32C251.73 68.53 252.07 63.84 252.40 59.41C252.70 55.42 253.00 50.81 253.30 47.11C253.67 42.58 254.03 37.86 254.40 34.81C254.73 32.04 255.07 29.47 255.40 28.15C255.70 26.96 256.00 25.58 256.30 25.58C256.60 25.58 256.90 26.64 257.20 27.63C257.53 28.73 257.87 31.32 258.20 33.78C258.53 36.24 258.87 39.95 259.20 43.01C259.50 45.76 259.80 47.80 260.10 51.21C260.33 53.85 260.57 58.26 260.80 61.46C261.07 65.11 261.33 69.67 261.60 71.71C262.10 75.53 262.60 79.39 263.10 79.39C263.43 79.39 263.77 73.16 264.10 71.71C264.40 70.40 264.70 68.94 265.00 68.94C265.43 68.94 265.87 70.39 266.30 71.19C266.80 72.12 267.30 73.46 267.80 74.17C268.63 75.35 269.47 76.13 270.30 76.83C271.30 77.67 272.30 77.97 273.30 78.88C273.97 79.49 274.63 80.77 275.30 81.44C276.00 82.15 276.70 83.19 277.40 83.19C278.20 83.19 279.00 82.20 279.80 81.75C280.70 81.25 281.60 80.58 282.50 80.32C284.33 79.78 286.17 79.29 288.00 79.29C290.17 79.29 292.33 79.78 294.50 80.01C296.93 80.26 299.37 80.55 301.80 80.73C304.77 80.94 307.73 81.24 310.70 81.24C313.73 81.24 316.77 80.78 319.80 80.62C323.23 80.45 326.67 80.22 330.10 80.22C332.00 80.22 333.90 80.79 335.80 81.04C337.87 81.30 339.93 81.75 342.00 81.75C344.50 81.75 347.00 80.65 349.50 80.52C352.93 80.34 356.37 80.22 359.80 80.22C363.30 80.22 366.80 80.22 370.30 80.22" fill="none" stroke="#86c0f2" stroke-width="0.6"/>
<path d="M239.30 83.70C242.83 83.54 246.37 83.62 249.90 83.23C250.23 83.19 250.57 82.98 250.90 82.57C251.23 82.16 251.57 76.74 251.90 73.27C252.23 69.79 252.57 65.48 252.90 61.42C253.20 57.77 253.50 53.54 253.80 50.14C254.17 45.99 254.53 41.52 254.90 38.86C255.23 36.45 255.57 34.40 255.90 33.22C256.20 32.16 256.50 30.87 256.80 30.87C257.10 30.87 257.40 31.87 257.70 32.75C258.03 33.74 258.37 35.78 258.70 37.92C259.03 40.06 259.37 43.58 259.70 46.38C260.00 48.90 260.30 50.78 260.60 53.90C260.83 56.33 261.07 60.17 261.30 63.30C261.53 66.44 261.77 70.81 262.00 72.70C262.37 75.67 262.73 78.81 263.10 78.81C263.57 78.81 264.03 76.85 264.50 75.99C264.97 75.14 265.43 73.64 265.90 73.64C266.37 73.64 266.83 74.14 267.30 74.39C267.93 74.74 268.57 74.99 269.20 75.43C269.90 75.91 270.60 76.74 271.30 77.40C272.13 78.19 272.97 78.97 273.80 79.75C274.47 80.38 275.13 81.12 275.80 81.63C276.37 82.07 276.93 82.76 277.50 82.76C278.43 82.76 279.37 82.09 280.30 81.73C281.20 81.37 282.10 80.86 283.00 80.60C284.83 80.07 286.67 79.47 288.50 79.47C290.67 79.47 292.83 80.13 295.00 80.32C297.43 80.53 299.87 80.62 302.30 80.79C305.27 80.99 308.23 81.44 311.20 81.44C314.23 81.44 317.27 81.06 320.30 80.88C323.73 80.68 327.17 80.32 330.60 80.32C332.50 80.32 334.40 80.81 336.30 81.07C338.37 81.35 340.43 81.91 342.50 81.91C345.00 81.91 347.50 80.94 350.00 80.79C353.43 80.58 356.87 80.46 360.30 80.41C363.80 80.36 367.30 80.35 370.80 80.32" fill="none" stroke="#8f8f8f" stroke-width="0.6"/>
<path d="M238.75 83.70C242.28 83.53 245.82 83.61 249.35 83.19C249.68 83.15 250.02 82.92 250.35 82.47C250.68 82.02 251.02 76.11 251.35 72.32C251.68 68.53 252.02 63.84 252.35 59.41C252.65 55.42 252.95 50.81 253.25 47.11C253.62 42.58 253.98 37.70 254.35 34.81C254.68 32.17 255.02 29.95 255.35 28.66C255.65 27.50 255.95 26.10 256.25 26.10C256.55 26.10 256.85 27.18 257.15 28.15C257.48 29.22 257.82 31.45 258.15 33.78C258.48 36.12 258.82 39.95 259.15 43.01C259.45 45.76 259.75 47.80 260.05 51.21C260.28 53.85 260.52 58.04 260.75 61.46C260.98 64.87 261.22 69.64 261.45 71.71C261.82 74.95 262.18 78.37 262.55 78.37C263.02 78.37 263.48 76.23 263.95 75.30C264.42 74.36 264.88 72.73 265.35 72.73C265.82 72.73 266.28 73.28 266.75 73.55C267.38 73.93 268.02 74.21 268.65 74.68C269.35 75.20 270.05 76.11 270.75 76.83C271.58 77.69 272.42 78.54 273.25 79.39C273.92 80.08 274.58 80.88 275.25 81.44C275.82 81.92 276.38 82.67 276.95 82.67C277.88 82.67 278.82 81.95 279.75 81.55C280.65 81.16 281.55 80.60 282.45 80.32C284.28 79.75 286.12 79.09 287.95 79.09C290.12 79.09 292.28 79.81 294.45 80.01C296.88 80.24 299.32 80.34 301.75 80.52C304.72 80.74 307.68 81.24 310.65 81.24C313.68 81.24 316.72 80.82 319.75 80.62C323.18 80.41 326.62 80.01 330.05 80.01C331.95 80.01 333.85 80.55 335.75 80.83C337.82 81.13 339.88 81.75 341.95 81.75C344.45 81.75 346.95 80.69 349.45 80.52C352.88 80.30 356.32 80.17 359.75 80.11C363.25 80.06 366.75 80.04 370.25 80.01" fill="none" stroke="#8f8f8f" stroke-width="0.6"/>
<path d="M239.35 83.70C242.85 83.55 246.35 83.62 249.85 83.23C250.18 83.20 250.52 82.99 250.85 82.58C251.18 82.18 251.52 76.81 251.85 73.38C252.18 69.94 252.52 65.68 252.85 61.66C253.15 58.04 253.45 54.00 253.75 50.50C254.12 46.22 254.48 41.40 254.85 38.41C255.18 35.69 255.52 33.29 255.85 31.90C256.15 30.65 256.45 29.11 256.75 29.11C257.05 29.11 257.35 30.36 257.65 31.43C257.98 32.63 258.32 35.14 258.65 37.48C258.98 39.82 259.32 43.10 259.65 45.85C259.92 48.05 260.18 49.46 260.45 52.36C260.68 54.89 260.92 59.14 261.15 63.52C261.32 66.65 261.48 71.70 261.65 74.68C261.78 77.06 261.92 80.72 262.05 80.72C262.32 80.72 262.58 78.50 262.85 76.54C263.08 74.83 263.32 69.32 263.55 68.17C263.88 66.52 264.22 65.19 264.55 65.19C264.98 65.19 265.42 66.11 265.85 66.77C266.35 67.54 266.85 69.01 267.35 69.94C268.58 72.23 269.82 74.04 271.05 75.89C272.28 77.74 273.52 80.18 274.75 81.10C275.52 81.66 276.28 82.31 277.05 82.31C277.65 82.31 278.25 81.48 278.85 81.00C279.65 80.37 280.45 79.21 281.25 78.86C282.78 78.20 284.32 77.66 285.85 77.66C287.38 77.66 288.92 78.40 290.45 78.86C291.98 79.33 293.52 80.43 295.05 80.54C297.48 80.72 299.92 80.70 302.35 80.82C305.32 80.96 308.28 81.47 311.25 81.47C314.28 81.47 317.32 81.08 320.35 80.91C323.78 80.71 327.22 80.35 330.65 80.35C332.55 80.35 334.45 80.84 336.35 81.10C338.42 81.37 340.48 81.93 342.55 81.93C345.05 81.93 347.55 80.97 350.05 80.82C353.48 80.61 356.92 80.49 360.35 80.45C363.85 80.40 367.35 80.38 370.85 80.35" fill="none" stroke="#ec8db2" stroke-width="0.6"/>
<path d="M238.80 83.70C242.30 83.53 245.80 83.61 249.30 83.19C249.63 83.15 249.97 82.92 250.30 82.48C250.63 82.03 250.97 76.15 251.30 72.38C251.63 68.61 251.97 63.93 252.30 59.53C252.60 55.56 252.90 51.13 253.20 47.29C253.57 42.59 253.93 37.30 254.30 34.03C254.63 31.05 254.97 28.41 255.30 26.89C255.60 25.51 255.90 23.83 256.20 23.83C256.50 23.83 256.80 25.19 257.10 26.38C257.43 27.69 257.77 30.44 258.10 33.01C258.43 35.57 258.77 39.17 259.10 42.19C259.37 44.60 259.63 46.15 259.90 49.33C260.13 52.10 260.37 56.76 260.60 61.57C260.77 65.00 260.93 70.53 261.10 73.81C261.23 76.42 261.37 80.44 261.50 80.44C261.77 80.44 262.03 77.99 262.30 75.85C262.53 73.97 262.77 67.93 263.00 66.67C263.33 64.86 263.67 63.40 264.00 63.40C264.43 63.40 264.87 64.41 265.30 65.14C265.80 65.98 266.30 67.58 266.80 68.60C268.03 71.12 269.27 73.10 270.50 75.13C271.73 77.16 272.97 79.84 274.20 80.84C274.97 81.47 275.73 82.17 276.50 82.17C277.10 82.17 277.70 81.26 278.30 80.74C279.10 80.04 279.90 78.77 280.70 78.40C282.23 77.67 283.77 77.07 285.30 77.07C286.83 77.07 288.37 77.88 289.90 78.40C291.43 78.91 292.97 80.11 294.50 80.23C296.93 80.43 299.37 80.41 301.80 80.54C304.77 80.70 307.73 81.25 310.70 81.25C313.73 81.25 316.77 80.83 319.80 80.64C323.23 80.42 326.67 80.03 330.10 80.03C332.00 80.03 333.90 80.57 335.80 80.84C337.87 81.14 339.93 81.76 342.00 81.76C344.50 81.76 347.00 80.70 349.50 80.54C352.93 80.31 356.37 80.18 359.80 80.13C363.30 80.08 366.80 80.06 370.30 80.03" fill="none" stroke="#ec8db2" stroke-width="0.6"/>
<path d="M239.00 83.70C242.53 83.53 246.07 83.61 249.60 83.20C249.93 83.16 250.27 82.94 250.60 82.50C250.93 82.06 251.27 76.30 251.60 72.60C251.93 68.90 252.27 64.32 252.60 60.00C252.90 56.11 253.20 51.61 253.50 48.00C253.87 43.59 254.23 38.97 254.60 36.00C254.93 33.30 255.27 30.79 255.60 29.50C255.90 28.34 256.20 27.00 256.50 27.00C256.80 27.00 257.10 28.03 257.40 29.00C257.73 30.07 258.07 32.60 258.40 35.00C258.73 37.40 259.07 41.02 259.40 44.00C259.70 46.68 260.00 48.68 260.30 52.00C260.53 54.58 260.77 58.88 261.00 62.00C261.27 65.56 261.53 70.01 261.80 72.00C262.30 75.73 262.80 79.50 263.30 79.50C263.63 79.50 263.97 73.42 264.30 72.00C264.60 70.72 264.90 69.30 265.20 69.30C265.63 69.30 266.07 70.72 266.50 71.50C267.00 72.40 267.50 73.71 268.00 74.40C268.83 75.56 269.67 76.32 270.50 77.00C271.50 77.82 272.50 78.11 273.50 79.00C274.17 79.59 274.83 80.84 275.50 81.50C276.20 82.19 276.90 83.20 277.60 83.20C278.40 83.20 279.20 82.24 280.00 81.80C280.90 81.31 281.80 80.66 282.70 80.40C284.53 79.88 286.37 79.40 288.20 79.40C290.37 79.40 292.53 79.88 294.70 80.10C297.13 80.35 299.57 80.63 302.00 80.80C304.97 81.01 307.93 81.30 310.90 81.30C313.93 81.30 316.97 80.85 320.00 80.70C323.43 80.53 326.87 80.30 330.30 80.30C332.20 80.30 334.10 80.86 336.00 81.10C338.07 81.36 340.13 81.80 342.20 81.80C344.70 81.80 347.20 80.73 349.70 80.60C353.13 80.42 356.57 80.30 360.00 80.30C363.50 80.30 367.00 80.30 370.50 80.30" fill="none" stroke="#2f8ae4" stroke-width="1.30" stroke-linejoin="round"/>
<path d="M239.00 83.70C242.53 83.53 246.07 83.61 249.60 83.20C249.93 83.16 250.27 82.94 250.60 82.50C250.93 82.06 251.27 76.30 251.60 72.60C251.93 68.90 252.27 64.32 252.60 60.00C252.90 56.11 253.20 51.61 253.50 48.00C253.87 43.59 254.23 38.83 254.60 36.00C254.93 33.43 255.27 31.26 255.60 30.00C255.90 28.87 256.20 27.50 256.50 27.50C256.80 27.50 257.10 28.56 257.40 29.50C257.73 30.55 258.07 32.72 258.40 35.00C258.73 37.28 259.07 41.02 259.40 44.00C259.70 46.68 260.00 48.68 260.30 52.00C260.53 54.58 260.77 58.67 261.00 62.00C261.23 65.33 261.47 69.99 261.70 72.00C262.07 75.16 262.43 78.50 262.80 78.50C263.27 78.50 263.73 76.41 264.20 75.50C264.67 74.59 265.13 73.00 265.60 73.00C266.07 73.00 266.53 73.53 267.00 73.80C267.63 74.16 268.27 74.44 268.90 74.90C269.60 75.41 270.30 76.30 271.00 77.00C271.83 77.83 272.67 78.67 273.50 79.50C274.17 80.17 274.83 80.95 275.50 81.50C276.07 81.97 276.63 82.70 277.20 82.70C278.13 82.70 279.07 81.99 280.00 81.60C280.90 81.22 281.80 80.67 282.70 80.40C284.53 79.84 286.37 79.20 288.20 79.20C290.37 79.20 292.53 79.90 294.70 80.10C297.13 80.32 299.57 80.42 302.00 80.60C304.97 80.82 307.93 81.30 310.90 81.30C313.93 81.30 316.97 80.89 320.00 80.70C323.43 80.49 326.87 80.10 330.30 80.10C332.20 80.10 334.10 80.63 336.00 80.90C338.07 81.19 340.13 81.80 342.20 81.80C344.70 81.80 347.20 80.76 349.70 80.60C353.13 80.38 356.57 80.25 360.00 80.20C363.50 80.15 367.00 80.13 370.50 80.10" fill="none" stroke="#303030" stroke-width="1.40" stroke-linejoin="round"/>
<path d="M239.00 83.70C242.50 83.53 246.00 83.61 249.50 83.20C249.83 83.16 250.17 82.94 250.50 82.50C250.83 82.06 251.17 76.30 251.50 72.60C251.83 68.90 252.17 64.32 252.50 60.00C252.80 56.11 253.10 51.77 253.40 48.00C253.77 43.40 254.13 38.21 254.50 35.00C254.83 32.08 255.17 29.50 255.50 28.00C255.80 26.65 256.10 25.00 256.40 25.00C256.70 25.00 257.00 26.34 257.30 27.50C257.63 28.79 257.97 31.48 258.30 34.00C258.63 36.52 258.97 40.04 259.30 43.00C259.57 45.36 259.83 46.89 260.10 50.00C260.33 52.72 260.57 57.29 260.80 62.00C260.97 65.36 261.13 70.79 261.30 74.00C261.43 76.57 261.57 80.50 261.70 80.50C261.97 80.50 262.23 78.11 262.50 76.00C262.73 74.16 262.97 68.24 263.20 67.00C263.53 65.23 263.87 63.80 264.20 63.80C264.63 63.80 265.07 64.79 265.50 65.50C266.00 66.32 266.50 67.90 267.00 68.90C268.23 71.37 269.47 73.31 270.70 75.30C271.93 77.29 273.17 79.92 274.40 80.90C275.17 81.51 275.93 82.20 276.70 82.20C277.30 82.20 277.90 81.31 278.50 80.80C279.30 80.12 280.10 78.87 280.90 78.50C282.43 77.79 283.97 77.20 285.50 77.20C287.03 77.20 288.57 78.00 290.10 78.50C291.63 79.00 293.17 80.18 294.70 80.30C297.13 80.49 299.57 80.47 302.00 80.60C304.97 80.76 307.93 81.30 310.90 81.30C313.93 81.30 316.97 80.89 320.00 80.70C323.43 80.49 326.87 80.10 330.30 80.10C332.20 80.10 334.10 80.63 336.00 80.90C338.07 81.19 340.13 81.80 342.20 81.80C344.70 81.80 347.20 80.76 349.70 80.60C353.13 80.38 356.57 80.25 360.00 80.20C363.50 80.15 367.00 80.13 370.50 80.10" fill="none" stroke="#e2447f" stroke-width="1.30" stroke-linejoin="round"/>
<path d="M412.90 83.20C416.87 83.20 420.83 83.20 424.80 83.20C425.43 83.20 426.07 81.36 426.70 79.46C427.30 77.65 427.90 72.32 428.50 68.32C429.13 64.10 429.77 58.46 430.40 54.56C430.70 52.71 431.00 51.48 431.30 49.60C431.67 47.30 432.03 43.96 432.40 41.51C432.90 38.16 433.40 35.01 433.90 32.40C434.30 30.30 434.70 28.13 435.10 26.83C435.43 25.75 435.77 24.58 436.10 24.30C436.37 24.08 436.63 23.90 436.90 23.90C437.43 23.90 437.97 24.72 438.50 25.31C439.07 25.94 439.63 27.00 440.20 27.84C440.77 28.69 441.33 29.58 441.90 30.37C442.57 31.31 443.23 32.29 443.90 33.00C444.73 33.90 445.57 34.69 446.40 35.23C447.20 35.75 448.00 36.31 448.80 36.45C449.83 36.62 450.87 36.71 451.90 36.75C453.23 36.80 454.57 36.80 455.90 36.85C457.23 36.90 458.57 37.02 459.90 37.15C461.57 37.32 463.23 37.56 464.90 37.86C466.57 38.16 468.23 38.61 469.90 39.08C471.57 39.54 473.23 40.08 474.90 40.70C476.57 41.31 478.23 42.02 479.90 42.82C481.57 43.62 483.23 44.59 484.90 45.55C486.57 46.51 488.23 47.61 489.90 48.59C491.57 49.57 493.23 50.55 494.90 51.42C496.57 52.30 498.23 53.10 499.90 53.85C501.57 54.61 503.23 55.24 504.90 55.98C506.57 56.72 508.23 57.43 509.90 58.30C511.57 59.18 513.23 60.30 514.90 61.34C516.57 62.39 518.23 63.57 519.90 64.58C521.57 65.59 523.23 66.56 524.90 67.41C526.57 68.26 528.23 68.97 529.90 69.74C531.23 70.35 532.57 70.95 533.90 71.56C535.23 72.17 536.57 72.73 537.90 73.38C539.73 74.28 541.57 75.34 543.40 76.32" fill="none" stroke="#86c0f2" stroke-width="0.6"/>
<path d="M437.00 23.00C437.67 23.33 438.33 23.57 439.00 24.00C439.83 24.54 440.67 25.47 441.50 26.40C442.73 27.78 443.97 30.29 445.20 31.50C446.43 32.71 447.67 33.98 448.90 34.30C449.93 34.57 450.97 34.75 452.00 34.80C453.33 34.86 454.67 34.86 456.00 34.90C457.33 34.94 458.67 35.01 460.00 35.10C461.67 35.22 463.33 35.47 465.00 35.70C466.67 35.93 468.33 36.18 470.00 36.50C471.67 36.82 473.33 37.22 475.00 37.70C476.67 38.18 478.33 38.81 480.00 39.50C481.67 40.19 483.33 41.04 485.00 41.90C486.67 42.76 488.33 43.77 490.00 44.70C491.67 45.63 493.33 46.79 495.00 47.50C496.67 48.21 498.33 48.54 500.00 49.20C501.67 49.86 503.33 50.74 505.00 51.60C506.67 52.46 508.33 53.42 510.00 54.40C511.67 55.38 513.33 56.43 515.00 57.50C516.67 58.57 518.33 59.72 520.00 60.80C521.67 61.88 523.33 62.99 525.00 64.00C526.67 65.01 528.33 65.98 530.00 66.90C531.33 67.63 532.67 68.32 534.00 69.00C535.33 69.68 536.67 70.32 538.00 71.00C539.83 71.94 541.67 72.93 543.50 73.90" fill="none" stroke="#8f8f8f" stroke-width="0.6"/>
<path d="M437.00 23.40C437.67 23.77 438.33 24.03 439.00 24.50C439.83 25.09 440.67 26.04 441.50 27.00C442.73 28.43 443.97 30.99 445.20 32.20C446.43 33.41 447.67 34.73 448.90 35.00C449.93 35.22 450.97 35.36 452.00 35.40C453.33 35.46 454.67 35.46 456.00 35.50C457.33 35.54 458.67 35.61 460.00 35.70C461.67 35.82 463.33 36.07 465.00 36.30C466.67 36.53 468.33 36.78 470.00 37.10C471.67 37.42 473.33 37.82 475.00 38.30C476.67 38.78 478.33 39.41 480.00 40.10C481.67 40.79 483.33 41.64 485.00 42.50C486.67 43.36 488.33 44.37 490.00 45.30C491.67 46.23 493.33 47.39 495.00 48.10C496.67 48.81 498.33 49.14 500.00 49.80C501.67 50.46 503.33 51.34 505.00 52.20C506.67 53.06 508.33 54.02 510.00 55.00C511.67 55.98 513.33 57.03 515.00 58.10C516.67 59.17 518.33 60.32 520.00 61.40C521.67 62.48 523.33 63.59 525.00 64.60C526.67 65.61 528.33 66.61 530.00 67.50C531.33 68.21 532.67 68.85 534.00 69.50C535.33 70.15 536.67 70.75 538.00 71.40C539.83 72.30 541.67 73.27 543.50 74.20" fill="none" stroke="#8f8f8f" stroke-width="0.6"/>
<path d="M436.00 25.80C436.50 26.53 437.00 27.12 437.50 28.00C438.17 29.17 438.83 31.00 439.50 32.50C440.17 34.00 440.83 35.78 441.50 37.00C442.33 38.52 443.17 40.19 444.00 40.80C444.83 41.41 445.67 41.84 446.50 42.00C447.30 42.16 448.10 42.30 448.90 42.30C450.93 42.30 452.97 42.30 455.00 42.30C456.67 42.30 458.33 42.39 460.00 42.50C461.67 42.61 463.33 43.17 465.00 43.60C466.67 44.03 468.33 44.65 470.00 45.20C471.67 45.75 473.33 46.29 475.00 46.90C476.67 47.51 478.33 48.13 480.00 48.90C481.67 49.67 483.33 50.67 485.00 51.60C486.67 52.53 488.33 53.50 490.00 54.50C491.67 55.50 493.33 56.70 495.00 57.60C496.67 58.50 498.33 59.38 500.00 60.00C501.67 60.62 503.33 61.02 505.00 61.50C506.67 61.98 508.33 62.29 510.00 62.90C511.67 63.51 513.33 64.63 515.00 65.50C516.67 66.37 518.33 67.31 520.00 68.10C521.67 68.89 523.33 69.66 525.00 70.30C526.67 70.94 528.33 71.55 530.00 72.00C531.33 72.36 532.67 72.64 534.00 72.90C535.33 73.16 536.67 73.36 538.00 73.60C539.83 73.93 541.67 74.27 543.50 74.60" fill="none" stroke="#ec8db2" stroke-width="0.6"/>
<path d="M436.00 25.80C436.50 26.87 437.00 27.76 437.50 29.00C438.17 30.65 438.83 33.29 439.50 35.00C440.17 36.71 440.83 38.44 441.50 39.50C442.33 40.82 443.17 41.91 444.00 42.50C445.33 43.44 446.67 44.32 448.00 44.40C450.33 44.54 452.67 44.52 455.00 44.60C456.67 44.66 458.33 44.70 460.00 44.80C461.67 44.90 463.33 45.20 465.00 45.50C466.67 45.80 468.33 46.34 470.00 46.80C471.67 47.26 473.33 47.77 475.00 48.30C476.67 48.83 478.33 49.33 480.00 50.00C481.67 50.67 483.33 51.62 485.00 52.50C486.67 53.38 488.33 54.33 490.00 55.30C491.67 56.27 493.33 57.41 495.00 58.30C496.67 59.19 498.33 60.08 500.00 60.70C501.67 61.32 503.33 61.70 505.00 62.20C506.67 62.70 508.33 63.08 510.00 63.70C511.67 64.33 513.33 65.35 515.00 66.20C516.67 67.05 518.33 68.03 520.00 68.80C521.67 69.57 523.33 70.32 525.00 70.90C526.67 71.48 528.33 72.04 530.00 72.40C531.33 72.69 532.67 72.87 534.00 73.10C535.33 73.33 536.67 73.57 538.00 73.80C539.83 74.11 541.67 74.40 543.50 74.70" fill="none" stroke="#ec8db2" stroke-width="0.6"/>
<path d="M436.00 25.80C436.60 27.37 437.20 28.78 437.80 30.50C438.53 32.60 439.27 35.57 440.00 37.50C440.67 39.25 441.33 40.93 442.00 42.00C442.67 43.07 443.33 43.92 444.00 44.50C445.33 45.65 446.67 46.78 448.00 47.00C450.33 47.38 452.67 47.41 455.00 47.60C456.67 47.74 458.33 47.84 460.00 48.00C461.67 48.16 463.33 48.35 465.00 48.60C466.67 48.85 468.33 49.21 470.00 49.60C471.67 49.99 473.33 50.46 475.00 51.00C476.67 51.54 478.33 52.18 480.00 52.90C481.67 53.62 483.33 54.52 485.00 55.40C486.67 56.28 488.33 57.23 490.00 58.20C491.67 59.17 493.33 60.29 495.00 61.20C496.67 62.11 498.33 63.05 500.00 63.70C501.67 64.35 503.33 64.78 505.00 65.30C506.67 65.82 508.33 66.19 510.00 66.80C511.67 67.41 513.33 68.37 515.00 69.10C516.67 69.83 518.33 70.64 520.00 71.20C521.67 71.76 523.33 72.23 525.00 72.60C526.67 72.97 528.33 73.26 530.00 73.50C531.33 73.70 532.67 73.85 534.00 74.00C535.33 74.15 536.67 74.25 538.00 74.40C539.83 74.60 541.67 74.87 543.50 75.10" fill="none" stroke="#ec8db2" stroke-width="0.6"/>
<path d="M413.00 83.20C416.97 83.20 420.93 83.20 424.90 83.20C425.53 83.20 426.17 81.38 426.80 79.50C427.40 77.72 428.00 72.45 428.60 68.50C429.23 64.33 429.87 58.75 430.50 54.90C430.80 53.07 431.10 51.86 431.40 50.00C431.77 47.73 432.13 44.42 432.50 42.00C433.00 38.70 433.50 35.59 434.00 33.00C434.40 30.93 434.80 28.78 435.20 27.50C435.53 26.43 435.87 25.27 436.20 25.00C436.47 24.78 436.73 24.60 437.00 24.60C437.53 24.60 438.07 25.42 438.60 26.00C439.17 26.62 439.73 27.67 440.30 28.50C440.87 29.33 441.43 30.22 442.00 31.00C442.67 31.92 443.33 32.90 444.00 33.60C444.83 34.48 445.67 35.27 446.50 35.80C447.30 36.31 448.10 36.87 448.90 37.00C449.93 37.17 450.97 37.26 452.00 37.30C453.33 37.35 454.67 37.35 456.00 37.40C457.33 37.45 458.67 37.57 460.00 37.70C461.67 37.86 463.33 38.11 465.00 38.40C466.67 38.69 468.33 39.14 470.00 39.60C471.67 40.06 473.33 40.59 475.00 41.20C476.67 41.81 478.33 42.51 480.00 43.30C481.67 44.09 483.33 45.05 485.00 46.00C486.67 46.95 488.33 48.03 490.00 49.00C491.67 49.97 493.33 50.94 495.00 51.80C496.67 52.66 498.33 53.45 500.00 54.20C501.67 54.95 503.33 55.57 505.00 56.30C506.67 57.03 508.33 57.73 510.00 58.60C511.67 59.47 513.33 60.57 515.00 61.60C516.67 62.63 518.33 63.80 520.00 64.80C521.67 65.80 523.33 66.76 525.00 67.60C526.67 68.44 528.33 69.14 530.00 69.90C531.33 70.51 532.67 71.10 534.00 71.70C535.33 72.30 536.67 72.86 538.00 73.50C539.83 74.39 541.67 75.43 543.50 76.40" fill="none" stroke="#2f8ae4" stroke-width="1.30" stroke-linejoin="round"/>
<path d="M413.00 83.20C416.97 83.20 420.93 83.20 424.90 83.20C425.53 83.20 426.17 81.38 426.80 79.50C427.40 77.72 428.00 72.45 428.60 68.50C429.23 64.33 429.87 58.75 430.50 54.90C430.80 53.07 431.10 51.86 431.40 50.00C431.77 47.73 432.13 44.42 432.50 42.00C433.00 38.70 433.50 35.59 434.00 33.00C434.40 30.93 434.80 28.91 435.20 27.50C435.53 26.32 435.87 24.98 436.20 24.60C436.53 24.22 436.87 23.90 437.20 23.90C437.80 23.90 438.40 24.53 439.00 25.00C439.83 25.65 440.67 26.72 441.50 27.80C442.10 28.58 442.70 29.66 443.30 30.50C443.93 31.39 444.57 32.28 445.20 33.00C445.80 33.68 446.40 34.41 447.00 34.80C447.63 35.21 448.27 35.57 448.90 35.70C449.93 35.92 450.97 36.06 452.00 36.10C453.33 36.16 454.67 36.16 456.00 36.20C457.33 36.24 458.67 36.31 460.00 36.40C461.67 36.52 463.33 36.77 465.00 37.00C466.67 37.23 468.33 37.48 470.00 37.80C471.67 38.12 473.33 38.52 475.00 39.00C476.67 39.48 478.33 40.11 480.00 40.80C481.67 41.49 483.33 42.34 485.00 43.20C486.67 44.06 488.33 45.07 490.00 46.00C491.67 46.93 493.33 48.12 495.00 48.80C496.67 49.48 498.33 49.76 500.00 50.40C501.67 51.04 503.33 51.94 505.00 52.80C506.67 53.66 508.33 54.62 510.00 55.60C511.67 56.58 513.33 57.63 515.00 58.70C516.67 59.77 518.33 60.92 520.00 62.00C521.67 63.08 523.33 64.20 525.00 65.20C526.67 66.20 528.33 67.12 530.00 68.00C531.33 68.70 532.67 69.35 534.00 70.00C535.33 70.65 536.67 71.27 538.00 71.90C539.83 72.77 541.67 73.63 543.50 74.50" fill="none" stroke="#303030" stroke-width="1.40" stroke-linejoin="round"/>
<path d="M413.00 83.20C416.97 83.20 420.93 83.20 424.90 83.20C425.53 83.20 426.17 81.38 426.80 79.50C427.40 77.72 428.00 72.45 428.60 68.50C429.23 64.33 429.87 58.75 430.50 54.90C430.80 53.07 431.10 51.86 431.40 50.00C431.77 47.73 432.13 44.42 432.50 42.00C433.00 38.70 433.50 35.86 434.00 33.00C434.33 31.09 434.67 28.44 435.00 27.50C435.33 26.56 435.67 25.60 436.00 25.60C436.30 25.60 436.60 26.03 436.90 26.50C437.20 26.97 437.50 28.79 437.80 29.80C438.20 31.15 438.60 32.33 439.00 33.50C439.43 34.77 439.87 36.09 440.30 37.10C440.87 38.43 441.43 39.56 442.00 40.50C442.67 41.60 443.33 42.61 444.00 43.30C444.60 43.92 445.20 44.44 445.80 44.80C446.43 45.18 447.07 45.60 447.70 45.70C448.80 45.88 449.90 46.00 451.00 46.00C452.33 46.00 453.67 46.00 455.00 46.00C456.67 46.00 458.33 46.04 460.00 46.10C461.67 46.16 463.33 46.51 465.00 46.80C466.67 47.09 468.33 47.50 470.00 47.90C471.67 48.30 473.33 48.72 475.00 49.20C476.67 49.68 478.33 50.15 480.00 50.80C481.67 51.45 483.33 52.40 485.00 53.30C486.67 54.20 488.33 55.22 490.00 56.20C491.67 57.18 493.33 58.31 495.00 59.20C496.67 60.09 498.33 61.01 500.00 61.60C501.67 62.19 503.33 62.52 505.00 63.00C506.67 63.48 508.33 63.88 510.00 64.50C511.67 65.12 513.33 66.17 515.00 67.00C516.67 67.83 518.33 68.76 520.00 69.50C521.67 70.24 523.33 70.97 525.00 71.50C526.67 72.03 528.33 72.49 530.00 72.80C531.33 73.05 532.67 73.20 534.00 73.40C535.33 73.60 536.67 73.80 538.00 74.00C539.83 74.27 541.67 74.53 543.50 74.80" fill="none" stroke="#e2447f" stroke-width="1.30" stroke-linejoin="round"/>
<path d="M65.25 191.80C71.25 191.80 77.25 191.80 83.25 191.80C83.52 191.80 83.78 189.83 84.05 188.19C84.28 186.75 84.52 184.03 84.75 181.54C84.98 179.05 85.22 175.36 85.45 172.99C85.78 169.60 86.12 166.58 86.45 164.44C86.85 161.88 87.25 160.06 87.65 158.36C88.05 156.66 88.45 155.35 88.85 153.99C89.25 152.63 89.65 151.46 90.05 150.19C90.45 148.92 90.85 147.57 91.25 146.39C91.68 145.11 92.12 142.78 92.55 142.78C92.85 142.78 93.15 143.48 93.45 144.49C93.68 145.27 93.92 149.59 94.15 152.56C94.38 155.54 94.62 158.54 94.85 162.54C95.02 165.39 95.18 170.41 95.35 172.99C95.62 177.12 95.88 180.41 96.15 182.49C96.48 185.09 96.82 187.33 97.15 188.19C97.58 189.30 98.02 190.22 98.45 190.28C98.92 190.34 99.38 190.38 99.85 190.38C100.32 190.38 100.78 186.91 101.25 185.34C101.75 183.65 102.25 181.33 102.75 180.59C103.32 179.75 103.88 178.98 104.45 178.98C104.95 178.98 105.45 180.92 105.95 182.01C106.48 183.18 107.02 185.81 107.55 185.81C108.12 185.81 108.68 185.81 109.25 185.81C109.75 185.81 110.25 183.89 110.75 183.44C111.55 182.72 112.35 182.01 113.15 182.01C114.18 182.01 115.22 183.47 116.25 183.91C117.32 184.37 118.38 184.78 119.45 184.96C121.55 185.31 123.65 185.50 125.75 185.62C127.25 185.71 128.75 185.72 130.25 185.81C134.18 186.07 138.12 188.19 142.05 188.19C146.92 188.19 151.78 188.07 156.65 187.91C161.48 187.74 166.32 186.10 171.15 186.10C176.02 186.10 180.88 186.24 185.75 186.38C189.38 186.50 193.02 186.83 196.65 187.05" fill="none" stroke="#86c0f2" stroke-width="0.6"/>
<path d="M64.80 191.80C70.80 191.80 76.80 191.80 82.80 191.80C83.07 191.80 83.33 189.68 83.60 187.91C83.83 186.35 84.07 183.42 84.30 180.73C84.53 178.04 84.77 174.06 85.00 171.50C85.33 167.85 85.67 164.59 86.00 162.28C86.40 159.51 86.80 157.55 87.20 155.72C87.60 153.89 88.00 152.47 88.40 151.00C88.80 149.54 89.20 148.27 89.60 146.91C90.00 145.54 90.40 144.08 90.80 142.81C91.23 141.42 91.67 138.91 92.10 138.91C92.40 138.91 92.70 139.67 93.00 140.75C93.23 141.60 93.47 146.26 93.70 149.47C93.93 152.68 94.17 155.92 94.40 160.23C94.57 163.31 94.73 168.72 94.90 171.50C95.17 175.96 95.43 179.51 95.70 181.75C96.03 184.56 96.37 186.98 96.70 187.91C97.13 189.11 97.57 190.10 98.00 190.16C98.47 190.23 98.93 190.26 99.40 190.26C99.87 190.26 100.33 186.53 100.80 184.83C101.30 183.01 101.80 180.50 102.30 179.71C102.87 178.80 103.43 177.96 104.00 177.96C104.50 177.96 105.00 180.06 105.50 181.24C106.03 182.50 106.57 185.34 107.10 185.34C107.67 185.34 108.23 185.34 108.80 185.34C109.30 185.34 109.80 183.26 110.30 182.78C111.10 182.01 111.90 181.24 112.70 181.24C113.73 181.24 114.77 182.82 115.80 183.29C116.87 183.78 117.93 184.23 119.00 184.42C121.10 184.80 123.20 185.00 125.30 185.14C126.80 185.23 128.30 185.24 129.80 185.34C133.73 185.61 137.67 187.91 141.60 187.91C146.47 187.91 151.33 187.77 156.20 187.60C161.03 187.42 165.87 185.65 170.70 185.65C175.57 185.65 180.43 185.80 185.30 185.96C188.93 186.08 192.57 186.44 196.20 186.68" fill="none" stroke="#86c0f2" stroke-width="0.6"/>
<path d="M65.30 191.80C71.17 191.80 77.03 191.80 82.90 191.80C83.13 191.80 83.37 189.81 83.60 188.23C83.80 186.87 84.00 184.54 84.20 182.31C84.43 179.69 84.67 175.45 84.90 173.19C85.23 169.96 85.57 167.70 85.90 165.67C86.30 163.22 86.70 160.52 87.10 159.56C87.50 158.60 87.90 157.74 88.30 157.68C88.70 157.62 89.10 157.64 89.50 157.58C90.00 157.51 90.50 155.27 91.00 153.92C91.47 152.66 91.93 150.61 92.40 149.69C92.67 149.16 92.93 148.47 93.20 148.47C93.57 148.47 93.93 149.52 94.30 150.63C94.70 151.84 95.10 155.26 95.50 158.71C95.73 160.72 95.97 163.76 96.20 166.61C96.37 168.64 96.53 171.08 96.70 173.19C96.93 176.13 97.17 179.60 97.40 181.65C97.70 184.29 98.00 186.92 98.30 187.76C98.67 188.78 99.03 189.64 99.40 189.64C99.87 189.64 100.33 187.48 100.80 186.35C101.30 185.14 101.80 183.40 102.30 182.59C102.77 181.83 103.23 180.90 103.70 180.90C104.13 180.90 104.57 183.33 105.00 184.47C105.40 185.52 105.80 187.48 106.20 187.48C106.90 187.48 107.60 186.14 108.30 185.41C109.13 184.53 109.97 182.86 110.80 182.59C111.60 182.32 112.40 182.12 113.20 182.12C114.23 182.12 115.27 183.56 116.30 184.00C117.37 184.45 118.43 184.85 119.50 185.03C121.60 185.38 123.70 185.69 125.80 185.69C127.30 185.69 128.80 185.69 130.30 185.69C134.23 185.69 138.17 188.23 142.10 188.23C146.97 188.23 151.83 188.11 156.70 187.95C161.53 187.78 166.37 186.16 171.20 186.16C176.07 186.16 180.93 186.30 185.80 186.44C189.43 186.55 193.07 186.88 196.70 187.10" fill="none" stroke="#8f8f8f" stroke-width="0.6"/>
<path d="M64.75 191.80C70.62 191.80 76.48 191.80 82.35 191.80C82.58 191.80 82.82 189.63 83.05 187.91C83.25 186.43 83.45 183.89 83.65 181.45C83.88 178.60 84.12 173.97 84.35 171.50C84.68 167.98 85.02 165.52 85.35 163.31C85.75 160.64 86.15 157.69 86.55 156.64C86.95 155.60 87.35 154.66 87.75 154.59C88.15 154.53 88.55 154.55 88.95 154.49C89.45 154.41 89.95 151.97 90.45 150.49C90.92 149.12 91.38 146.88 91.85 145.88C92.12 145.31 92.38 144.55 92.65 144.55C93.02 144.55 93.38 145.70 93.75 146.91C94.15 148.22 94.55 151.96 94.95 155.72C95.18 157.91 95.42 161.23 95.65 164.33C95.82 166.55 95.98 169.21 96.15 171.50C96.38 174.72 96.62 178.49 96.85 180.73C97.15 183.61 97.45 186.48 97.75 187.39C98.12 188.51 98.48 189.44 98.85 189.44C99.32 189.44 99.78 187.09 100.25 185.85C100.75 184.53 101.25 182.64 101.75 181.75C102.22 180.93 102.68 179.91 103.15 179.91C103.58 179.91 104.02 182.57 104.45 183.81C104.85 184.95 105.25 187.08 105.65 187.08C106.35 187.08 107.05 185.63 107.75 184.83C108.58 183.88 109.42 182.06 110.25 181.75C111.05 181.47 111.85 181.24 112.65 181.24C113.68 181.24 114.72 182.82 115.75 183.29C116.82 183.78 117.88 184.23 118.95 184.42C121.05 184.80 123.15 185.14 125.25 185.14C126.75 185.14 128.25 185.14 129.75 185.14C133.68 185.14 137.62 187.91 141.55 187.91C146.42 187.91 151.28 187.77 156.15 187.60C160.98 187.42 165.82 185.65 170.65 185.65C175.52 185.65 180.38 185.80 185.25 185.96C188.88 186.08 192.52 186.44 196.15 186.68" fill="none" stroke="#8f8f8f" stroke-width="0.6"/>
<path d="M65.35 191.80C70.38 191.80 75.42 191.80 80.45 191.80C80.75 191.80 81.05 189.79 81.35 188.27C81.68 186.58 82.02 184.04 82.35 181.01C82.62 178.59 82.88 174.47 83.15 171.53C83.45 168.21 83.75 165.33 84.05 162.23C84.35 159.13 84.65 155.53 84.95 152.93C85.28 150.03 85.62 147.19 85.95 145.49C86.28 143.78 86.62 142.12 86.95 141.58C87.22 141.15 87.48 140.74 87.75 140.74C88.05 140.74 88.35 141.25 88.65 141.77C88.98 142.34 89.32 143.93 89.65 145.49C90.02 147.20 90.38 149.84 90.75 152.46C91.22 155.80 91.68 160.17 92.15 164.09C92.52 167.16 92.88 170.13 93.25 173.39C93.55 176.05 93.85 179.16 94.15 181.76C94.42 184.07 94.68 186.97 94.95 188.27C95.15 189.24 95.35 190.41 95.55 190.41C95.88 190.41 96.22 189.90 96.55 189.38C96.98 188.70 97.42 185.93 97.85 184.55C98.35 182.95 98.85 181.01 99.35 180.36C99.78 179.80 100.22 179.25 100.65 179.25C101.12 179.25 101.58 180.64 102.05 181.76C102.48 182.80 102.92 185.23 103.35 186.41C103.68 187.31 104.02 188.64 104.35 188.64C105.02 188.64 105.68 187.36 106.35 186.87C106.95 186.44 107.55 186.08 108.15 185.76C109.42 185.07 110.68 183.99 111.95 183.99C113.22 183.99 114.48 185.45 115.75 185.76C118.28 186.36 120.82 186.58 123.35 186.87C125.68 187.14 128.02 187.34 130.35 187.52C134.28 187.82 138.22 188.27 142.15 188.27C147.02 188.27 151.88 188.15 156.75 187.99C161.58 187.83 166.42 186.22 171.25 186.22C176.12 186.22 180.98 186.35 185.85 186.50C189.48 186.61 193.12 186.93 196.75 187.15" fill="none" stroke="#ec8db2" stroke-width="0.6"/>
<path d="M64.80 191.80C69.83 191.80 74.87 191.80 79.90 191.80C80.20 191.80 80.50 189.59 80.80 187.92C81.13 186.07 81.47 183.29 81.80 179.97C82.07 177.31 82.33 172.80 82.60 169.56C82.90 165.93 83.20 162.76 83.50 159.36C83.80 155.96 84.10 152.02 84.40 149.16C84.73 145.99 85.07 142.88 85.40 141.00C85.73 139.13 86.07 137.31 86.40 136.72C86.67 136.25 86.93 135.80 87.20 135.80C87.50 135.80 87.80 136.36 88.10 136.92C88.43 137.55 88.77 139.30 89.10 141.00C89.47 142.88 89.83 145.78 90.20 148.65C90.67 152.31 91.13 157.11 91.60 161.40C91.97 164.77 92.33 168.04 92.70 171.60C93.00 174.52 93.30 177.93 93.60 180.78C93.87 183.32 94.13 186.50 94.40 187.92C94.60 188.99 94.80 190.27 95.00 190.27C95.33 190.27 95.67 189.72 96.00 189.15C96.43 188.40 96.87 185.36 97.30 183.84C97.80 182.09 98.30 179.97 98.80 179.25C99.23 178.64 99.67 178.03 100.10 178.03C100.57 178.03 101.03 179.56 101.50 180.78C101.93 181.92 102.37 184.59 102.80 185.88C103.13 186.88 103.47 188.33 103.80 188.33C104.47 188.33 105.13 186.93 105.80 186.39C106.40 185.92 107.00 185.53 107.60 185.17C108.87 184.42 110.13 183.23 111.40 183.23C112.67 183.23 113.93 184.84 115.20 185.17C117.73 185.83 120.27 186.08 122.80 186.39C125.13 186.68 127.47 186.91 129.80 187.11C133.73 187.44 137.67 187.92 141.60 187.92C146.47 187.92 151.33 187.79 156.20 187.62C161.03 187.44 165.87 185.68 170.70 185.68C175.57 185.68 180.43 185.83 185.30 185.99C188.93 186.10 192.57 186.46 196.20 186.70" fill="none" stroke="#ec8db2" stroke-width="0.6"/>
<path d="M65.00 191.80C71.00 191.80 77.00 191.80 83.00 191.80C83.27 191.80 83.53 189.73 83.80 188.00C84.03 186.49 84.27 183.62 84.50 181.00C84.73 178.38 84.97 174.50 85.20 172.00C85.53 168.43 85.87 165.25 86.20 163.00C86.60 160.30 87.00 158.38 87.40 156.60C87.80 154.82 88.20 153.43 88.60 152.00C89.00 150.57 89.40 149.33 89.80 148.00C90.20 146.67 90.60 145.25 91.00 144.00C91.43 142.65 91.87 140.20 92.30 140.20C92.60 140.20 92.90 140.94 93.20 142.00C93.43 142.83 93.67 147.37 93.90 150.50C94.13 153.63 94.37 156.79 94.60 161.00C94.77 164.00 94.93 169.29 95.10 172.00C95.37 176.34 95.63 179.81 95.90 182.00C96.23 184.74 96.57 187.10 96.90 188.00C97.33 189.17 97.77 190.14 98.20 190.20C98.67 190.26 99.13 190.30 99.60 190.30C100.07 190.30 100.53 186.66 101.00 185.00C101.50 183.23 102.00 180.78 102.50 180.00C103.07 179.12 103.63 178.30 104.20 178.30C104.70 178.30 105.20 180.35 105.70 181.50C106.23 182.73 106.77 185.50 107.30 185.50C107.87 185.50 108.43 185.50 109.00 185.50C109.50 185.50 110.00 183.47 110.50 183.00C111.30 182.25 112.10 181.50 112.90 181.50C113.93 181.50 114.97 183.04 116.00 183.50C117.07 183.98 118.13 184.41 119.20 184.60C121.30 184.97 123.40 185.17 125.50 185.30C127.00 185.39 128.50 185.40 130.00 185.50C133.93 185.76 137.87 188.00 141.80 188.00C146.67 188.00 151.53 187.87 156.40 187.70C161.23 187.53 166.07 185.80 170.90 185.80C175.77 185.80 180.63 185.94 185.50 186.10C189.13 186.22 192.77 186.57 196.40 186.80" fill="none" stroke="#2f8ae4" stroke-width="1.30" stroke-linejoin="round"/>
<path d="M65.00 191.80C70.87 191.80 76.73 191.80 82.60 191.80C82.83 191.80 83.07 189.68 83.30 188.00C83.50 186.56 83.70 184.08 83.90 181.70C84.13 178.92 84.37 174.40 84.60 172.00C84.93 168.56 85.27 166.17 85.60 164.00C86.00 161.40 86.40 158.52 86.80 157.50C87.20 156.48 87.60 155.56 88.00 155.50C88.40 155.44 88.80 155.46 89.20 155.40C89.70 155.32 90.20 152.94 90.70 151.50C91.17 150.16 91.63 147.98 92.10 147.00C92.37 146.44 92.63 145.70 92.90 145.70C93.27 145.70 93.63 146.82 94.00 148.00C94.40 149.28 94.80 152.93 95.20 156.60C95.43 158.74 95.67 161.97 95.90 165.00C96.07 167.16 96.23 169.76 96.40 172.00C96.63 175.14 96.87 178.82 97.10 181.00C97.40 183.81 97.70 186.61 98.00 187.50C98.37 188.59 98.73 189.50 99.10 189.50C99.57 189.50 100.03 187.20 100.50 186.00C101.00 184.71 101.50 182.86 102.00 182.00C102.47 181.19 102.93 180.20 103.40 180.20C103.83 180.20 104.27 182.79 104.70 184.00C105.10 185.11 105.50 187.20 105.90 187.20C106.60 187.20 107.30 185.78 108.00 185.00C108.83 184.07 109.67 182.29 110.50 182.00C111.30 181.72 112.10 181.50 112.90 181.50C113.93 181.50 114.97 183.04 116.00 183.50C117.07 183.98 118.13 184.41 119.20 184.60C121.30 184.97 123.40 185.30 125.50 185.30C127.00 185.30 128.50 185.30 130.00 185.30C133.93 185.30 137.87 188.00 141.80 188.00C146.67 188.00 151.53 187.87 156.40 187.70C161.23 187.53 166.07 185.80 170.90 185.80C175.77 185.80 180.63 185.94 185.50 186.10C189.13 186.22 192.77 186.57 196.40 186.80" fill="none" stroke="#303030" stroke-width="1.40" stroke-linejoin="round"/>
<path d="M65.00 191.80C70.03 191.80 75.07 191.80 80.10 191.80C80.40 191.80 80.70 189.64 81.00 188.00C81.33 186.18 81.67 183.46 82.00 180.20C82.27 177.60 82.53 173.17 82.80 170.00C83.10 166.43 83.40 163.33 83.70 160.00C84.00 156.67 84.30 152.80 84.60 150.00C84.93 146.89 85.27 143.84 85.60 142.00C85.93 140.16 86.27 138.38 86.60 137.80C86.87 137.34 87.13 136.90 87.40 136.90C87.70 136.90 88.00 137.44 88.30 138.00C88.63 138.62 88.97 140.33 89.30 142.00C89.67 143.84 90.03 146.68 90.40 149.50C90.87 153.09 91.33 157.79 91.80 162.00C92.17 165.30 92.53 168.50 92.90 172.00C93.20 174.86 93.50 178.20 93.80 181.00C94.07 183.49 94.33 186.60 94.60 188.00C94.80 189.05 95.00 190.30 95.20 190.30C95.53 190.30 95.87 189.76 96.20 189.20C96.63 188.47 97.07 185.49 97.50 184.00C98.00 182.28 98.50 180.20 99.00 179.50C99.43 178.90 99.87 178.30 100.30 178.30C100.77 178.30 101.23 179.80 101.70 181.00C102.13 182.12 102.57 184.73 103.00 186.00C103.33 186.98 103.67 188.40 104.00 188.40C104.67 188.40 105.33 187.02 106.00 186.50C106.60 186.03 107.20 185.65 107.80 185.30C109.07 184.56 110.33 183.40 111.60 183.40C112.87 183.40 114.13 184.98 115.40 185.30C117.93 185.95 120.47 186.19 123.00 186.50C125.33 186.78 127.67 187.01 130.00 187.20C133.93 187.52 137.87 188.00 141.80 188.00C146.67 188.00 151.53 187.87 156.40 187.70C161.23 187.53 166.07 185.80 170.90 185.80C175.77 185.80 180.63 185.94 185.50 186.10C189.13 186.22 192.77 186.57 196.40 186.80" fill="none" stroke="#e2447f" stroke-width="1.30" stroke-linejoin="round"/>
<path d="M239.25 191.00C244.92 190.94 250.58 190.97 256.25 190.81C256.82 190.79 257.38 190.69 257.95 190.43C258.35 190.25 258.75 185.81 259.15 183.40C259.52 181.19 259.88 178.84 260.25 176.56C260.75 173.45 261.25 169.21 261.75 167.25C262.28 165.16 262.82 162.69 263.35 162.69C263.75 162.69 264.15 164.13 264.55 165.35C264.92 166.47 265.28 168.76 265.65 170.67C266.25 173.79 266.85 178.10 267.45 180.93C267.88 182.98 268.32 185.17 268.75 186.25C269.25 187.50 269.75 188.91 270.25 188.91C271.78 188.91 273.32 188.26 274.85 187.49C275.82 187.00 276.78 185.33 277.75 184.35C278.85 183.24 279.95 181.21 281.05 181.21C282.58 181.21 284.12 182.36 285.65 182.36C287.18 182.36 288.72 182.36 290.25 182.36C291.62 182.36 292.98 183.69 294.35 184.64C295.48 185.42 296.62 186.73 297.75 187.68C298.92 188.65 300.08 190.43 301.25 190.43C302.08 190.43 302.92 189.96 303.75 189.57C304.68 189.15 305.62 188.25 306.55 187.58C308.58 186.13 310.62 183.81 312.65 183.21C314.68 182.61 316.72 182.07 318.75 182.07C321.32 182.07 323.88 182.21 326.45 182.45C328.48 182.64 330.52 185.55 332.55 186.16C335.62 187.06 338.68 187.86 341.75 187.86C345.28 187.86 348.82 187.73 352.35 187.58C355.42 187.45 358.48 187.18 361.55 186.82C364.08 186.53 366.62 185.60 369.15 185.39C369.68 185.35 370.22 185.33 370.75 185.30" fill="none" stroke="#86c0f2" stroke-width="0.6"/>
<path d="M238.80 191.00C244.47 190.93 250.13 190.97 255.80 190.80C256.37 190.78 256.93 190.66 257.50 190.39C257.90 190.19 258.30 185.40 258.70 182.80C259.07 180.41 259.43 177.88 259.80 175.42C260.30 172.07 260.80 167.49 261.30 165.38C261.83 163.12 262.37 160.45 262.90 160.45C263.30 160.45 263.70 162.01 264.10 163.32C264.47 164.53 264.83 167.01 265.20 169.06C265.80 172.43 266.40 177.08 267.00 180.14C267.43 182.34 267.87 184.71 268.30 185.88C268.80 187.22 269.30 188.75 269.80 188.75C271.33 188.75 272.87 188.04 274.40 187.21C275.37 186.68 276.33 184.88 277.30 183.82C278.40 182.62 279.50 180.44 280.60 180.44C282.13 180.44 283.67 181.67 285.20 181.67C286.73 181.67 288.27 181.67 289.80 181.67C291.17 181.67 292.53 183.11 293.90 184.13C295.03 184.98 296.17 186.39 297.30 187.41C298.47 188.47 299.63 190.39 300.80 190.39C301.63 190.39 302.47 189.88 303.30 189.46C304.23 189.00 305.17 188.03 306.10 187.31C308.13 185.74 310.17 183.25 312.20 182.60C314.23 181.94 316.27 181.37 318.30 181.37C320.87 181.37 323.43 181.51 326.00 181.78C328.03 181.98 330.07 185.12 332.10 185.77C335.17 186.75 338.23 187.62 341.30 187.62C344.83 187.62 348.37 187.47 351.90 187.31C354.97 187.17 358.03 186.87 361.10 186.49C363.63 186.17 366.17 185.17 368.70 184.95C369.23 184.91 369.77 184.88 370.30 184.85" fill="none" stroke="#86c0f2" stroke-width="0.6"/>
<path d="M239.30 191.00C245.30 190.94 251.30 190.97 257.30 190.81C257.80 190.80 258.30 190.68 258.80 190.44C259.20 190.24 259.60 185.87 260.00 183.48C260.37 181.29 260.73 178.81 261.10 176.71C261.50 174.43 261.90 171.53 262.30 170.32C262.67 169.21 263.03 167.97 263.40 167.97C263.90 167.97 264.40 169.93 264.90 171.26C265.43 172.68 265.97 174.91 266.50 176.71C267.27 179.30 268.03 182.33 268.80 184.42C269.57 186.51 270.33 189.68 271.10 189.68C272.00 189.68 272.90 188.59 273.80 187.99C274.70 187.40 275.60 186.78 276.50 186.11C278.03 184.98 279.57 182.45 281.10 182.45C283.13 182.45 285.17 183.20 287.20 183.20C288.23 183.20 289.27 182.54 290.30 182.54C291.67 182.54 293.03 183.79 294.40 184.70C295.53 185.46 296.67 186.81 297.80 187.71C298.97 188.64 300.13 190.25 301.30 190.25C302.13 190.25 302.97 189.91 303.80 189.59C304.73 189.24 305.67 188.28 306.60 187.62C308.63 186.18 310.67 183.89 312.70 183.29C314.73 182.70 316.77 182.16 318.80 182.16C321.37 182.16 323.93 182.30 326.50 182.54C328.53 182.73 330.57 185.61 332.60 186.21C335.67 187.10 338.73 187.90 341.80 187.90C345.33 187.90 348.87 187.76 352.40 187.62C355.47 187.49 358.53 187.22 361.60 186.86C364.13 186.57 366.67 185.66 369.20 185.45C369.73 185.41 370.27 185.39 370.80 185.36" fill="none" stroke="#8f8f8f" stroke-width="0.6"/>
<path d="M238.75 191.00C244.75 190.93 250.75 190.97 256.75 190.80C257.25 190.78 257.75 190.66 258.25 190.39C258.65 190.17 259.05 185.40 259.45 182.80C259.82 180.41 260.18 177.71 260.55 175.42C260.95 172.93 261.35 169.77 261.75 168.45C262.12 167.24 262.48 165.89 262.85 165.89C263.35 165.89 263.85 168.02 264.35 169.47C264.88 171.02 265.42 173.45 265.95 175.42C266.72 178.25 267.48 181.55 268.25 183.82C269.02 186.10 269.78 189.56 270.55 189.56C271.45 189.56 272.35 188.37 273.25 187.72C274.15 187.07 275.05 186.40 275.95 185.67C277.48 184.43 279.02 181.67 280.55 181.67C282.58 181.67 284.62 182.49 286.65 182.49C287.68 182.49 288.72 181.78 289.75 181.78C291.12 181.78 292.48 183.14 293.85 184.13C294.98 184.96 296.12 186.43 297.25 187.41C298.42 188.43 299.58 190.18 300.75 190.18C301.58 190.18 302.42 189.81 303.25 189.46C304.18 189.08 305.12 188.03 306.05 187.31C308.08 185.74 310.12 183.25 312.15 182.60C314.18 181.94 316.22 181.37 318.25 181.37C320.82 181.37 323.38 181.51 325.95 181.78C327.98 181.98 330.02 185.12 332.05 185.77C335.12 186.75 338.18 187.62 341.25 187.62C344.78 187.62 348.32 187.47 351.85 187.31C354.92 187.17 357.98 186.87 361.05 186.49C363.58 186.17 366.12 185.17 368.65 184.95C369.18 184.91 369.72 184.88 370.25 184.85" fill="none" stroke="#8f8f8f" stroke-width="0.6"/>
<path d="M350.00 187.40C352.00 187.53 354.00 187.57 356.00 187.80C357.67 187.99 359.33 189.20 361.00 189.50C362.33 189.74 363.67 190.00 365.00 190.00C366.00 190.00 367.00 189.05 368.00 188.50C368.83 188.04 369.67 187.50 370.50 187.00" fill="none" stroke="#8f8f8f" stroke-width="0.6"/>
<path d="M239.35 191.00C243.02 190.94 246.68 190.93 250.35 190.81C251.72 190.77 253.08 190.74 254.45 190.44C254.85 190.36 255.25 186.72 255.65 184.49C256.05 182.26 256.45 179.98 256.85 176.86C257.22 174.01 257.58 169.05 257.95 165.89C258.28 163.01 258.62 160.14 258.95 158.26C259.28 156.39 259.62 154.44 259.95 153.80C260.25 153.22 260.55 152.68 260.85 152.68C261.25 152.68 261.65 153.76 262.05 154.73C262.48 155.78 262.92 158.08 263.35 160.31C263.78 162.54 264.22 165.63 264.65 168.68C265.05 171.50 265.45 174.78 265.85 177.98C266.15 180.38 266.45 183.56 266.75 185.42C267.05 187.28 267.35 189.66 267.65 189.88C268.55 190.56 269.45 190.81 270.35 190.81C271.88 190.81 273.42 189.91 274.95 188.95C275.98 188.31 277.02 185.23 278.05 185.23C278.65 185.23 279.25 185.68 279.85 185.88C280.78 186.21 281.72 186.81 282.65 186.81C283.68 186.81 284.72 186.54 285.75 186.54C287.28 186.54 288.82 187.72 290.35 188.30C292.22 189.02 294.08 190.44 295.95 190.44C297.48 190.44 299.02 189.67 300.55 189.05C302.08 188.43 303.62 186.26 305.15 186.26C309.72 186.26 314.28 186.26 318.85 186.26C322.95 186.26 327.05 185.88 331.15 185.88C334.72 185.88 338.28 187.65 341.85 187.65C346.92 187.65 351.98 187.53 357.05 187.37C361.12 187.25 365.18 186.53 369.25 186.26C369.78 186.22 370.32 186.20 370.85 186.16" fill="none" stroke="#ec8db2" stroke-width="0.6"/>
<path d="M238.80 191.00C242.47 190.93 246.13 190.92 249.80 190.80C251.17 190.75 252.53 190.71 253.90 190.39C254.30 190.29 254.70 186.30 255.10 183.86C255.50 181.42 255.90 178.91 256.30 175.50C256.67 172.36 257.03 166.93 257.40 163.46C257.73 160.31 258.07 157.15 258.40 155.10C258.73 153.04 259.07 150.90 259.40 150.20C259.70 149.57 260.00 148.98 260.30 148.98C260.70 148.98 261.10 150.16 261.50 151.22C261.93 152.37 262.37 154.89 262.80 157.34C263.23 159.79 263.67 163.17 264.10 166.52C264.50 169.61 264.90 173.20 265.30 176.72C265.60 179.36 265.90 182.84 266.20 184.88C266.50 186.92 266.80 189.53 267.10 189.78C268.00 190.52 268.90 190.80 269.80 190.80C271.33 190.80 272.87 189.81 274.40 188.76C275.43 188.05 276.47 184.68 277.50 184.68C278.10 184.68 278.70 185.16 279.30 185.39C280.23 185.75 281.17 186.41 282.10 186.41C283.13 186.41 284.17 186.10 285.20 186.10C286.73 186.10 288.27 187.40 289.80 188.04C291.67 188.83 293.53 190.39 295.40 190.39C296.93 190.39 298.47 189.54 300.00 188.86C301.53 188.18 303.07 185.80 304.60 185.80C309.17 185.80 313.73 185.80 318.30 185.80C322.40 185.80 326.50 185.39 330.60 185.39C334.17 185.39 337.73 187.33 341.30 187.33C346.37 187.33 351.43 187.20 356.50 187.02C360.57 186.88 364.63 186.10 368.70 185.80C369.23 185.76 369.77 185.73 370.30 185.70" fill="none" stroke="#ec8db2" stroke-width="0.6"/>
<path d="M352.00 187.20C354.00 187.60 356.00 188.05 358.00 188.40C359.67 188.70 361.33 189.20 363.00 189.20C364.33 189.20 365.67 188.61 367.00 188.20C368.17 187.84 369.33 187.27 370.50 186.80" fill="none" stroke="#ec8db2" stroke-width="0.6"/>
<path d="M239.00 191.00C244.67 190.93 250.33 190.97 256.00 190.80C256.57 190.78 257.13 190.67 257.70 190.40C258.10 190.21 258.50 185.54 258.90 183.00C259.27 180.67 259.63 178.20 260.00 175.80C260.50 172.53 261.00 168.06 261.50 166.00C262.03 163.80 262.57 161.20 263.10 161.20C263.50 161.20 263.90 162.71 264.30 164.00C264.67 165.18 265.03 167.59 265.40 169.60C266.00 172.88 266.60 177.42 267.20 180.40C267.63 182.55 268.07 184.86 268.50 186.00C269.00 187.31 269.50 188.80 270.00 188.80C271.53 188.80 273.07 188.11 274.60 187.30C275.57 186.79 276.53 185.03 277.50 184.00C278.60 182.83 279.70 180.70 280.80 180.70C282.33 180.70 283.87 181.90 285.40 181.90C286.93 181.90 288.47 181.90 290.00 181.90C291.37 181.90 292.73 183.31 294.10 184.30C295.23 185.12 296.37 186.50 297.50 187.50C298.67 188.53 299.83 190.40 301.00 190.40C301.83 190.40 302.67 189.90 303.50 189.50C304.43 189.05 305.37 188.10 306.30 187.40C308.33 185.87 310.37 183.43 312.40 182.80C314.43 182.17 316.47 181.60 318.50 181.60C321.07 181.60 323.63 181.74 326.20 182.00C328.23 182.20 330.27 185.27 332.30 185.90C335.37 186.85 338.43 187.70 341.50 187.70C345.03 187.70 348.57 187.55 352.10 187.40C355.17 187.27 358.23 186.97 361.30 186.60C363.83 186.29 366.37 185.32 368.90 185.10C369.43 185.05 369.97 185.03 370.50 185.00" fill="none" stroke="#2f8ae4" stroke-width="1.30" stroke-linejoin="round"/>
<path d="M239.00 191.00C245.00 190.93 251.00 190.97 257.00 190.80C257.50 190.79 258.00 190.66 258.50 190.40C258.90 190.19 259.30 185.54 259.70 183.00C260.07 180.67 260.43 178.03 260.80 175.80C261.20 173.37 261.60 170.29 262.00 169.00C262.37 167.82 262.73 166.50 263.10 166.50C263.60 166.50 264.10 168.58 264.60 170.00C265.13 171.51 265.67 173.88 266.20 175.80C266.97 178.56 267.73 181.78 268.50 184.00C269.27 186.22 270.03 189.60 270.80 189.60C271.70 189.60 272.60 188.43 273.50 187.80C274.40 187.17 275.30 186.51 276.20 185.80C277.73 184.59 279.27 181.90 280.80 181.90C282.83 181.90 284.87 182.70 286.90 182.70C287.93 182.70 288.97 182.00 290.00 182.00C291.37 182.00 292.73 183.33 294.10 184.30C295.23 185.10 296.37 186.54 297.50 187.50C298.67 188.49 299.83 190.20 301.00 190.20C301.83 190.20 302.67 189.84 303.50 189.50C304.43 189.12 305.37 188.10 306.30 187.40C308.33 185.87 310.37 183.43 312.40 182.80C314.43 182.17 316.47 181.60 318.50 181.60C321.07 181.60 323.63 181.74 326.20 182.00C328.23 182.20 330.27 185.27 332.30 185.90C335.37 186.85 338.43 187.70 341.50 187.70C345.03 187.70 348.57 187.55 352.10 187.40C355.17 187.27 358.23 186.97 361.30 186.60C363.83 186.29 366.37 185.32 368.90 185.10C369.43 185.05 369.97 185.03 370.50 185.00" fill="none" stroke="#303030" stroke-width="1.40" stroke-linejoin="round"/>
<path d="M239.00 191.00C242.67 190.93 246.33 190.93 250.00 190.80C251.37 190.75 252.73 190.72 254.10 190.40C254.50 190.31 254.90 186.40 255.30 184.00C255.70 181.60 256.10 179.15 256.50 175.80C256.87 172.73 257.23 167.40 257.60 164.00C257.93 160.91 258.27 157.82 258.60 155.80C258.93 153.78 259.27 151.69 259.60 151.00C259.90 150.38 260.20 149.80 260.50 149.80C260.90 149.80 261.30 150.96 261.70 152.00C262.13 153.13 262.57 155.60 263.00 158.00C263.43 160.40 263.87 163.72 264.30 167.00C264.70 170.03 265.10 173.55 265.50 177.00C265.80 179.58 266.10 183.00 266.40 185.00C266.70 187.00 267.00 189.56 267.30 189.80C268.20 190.53 269.10 190.80 270.00 190.80C271.53 190.80 273.07 189.83 274.60 188.80C275.63 188.11 276.67 184.80 277.70 184.80C278.30 184.80 278.90 185.28 279.50 185.50C280.43 185.85 281.37 186.50 282.30 186.50C283.33 186.50 284.37 186.20 285.40 186.20C286.93 186.20 288.47 187.47 290.00 188.10C291.87 188.87 293.73 190.40 295.60 190.40C297.13 190.40 298.67 189.57 300.20 188.90C301.73 188.23 303.27 185.90 304.80 185.90C309.37 185.90 313.93 185.90 318.50 185.90C322.60 185.90 326.70 185.50 330.80 185.50C334.37 185.50 337.93 187.40 341.50 187.40C346.57 187.40 351.63 187.27 356.70 187.10C360.77 186.96 364.83 186.19 368.90 185.90C369.43 185.86 369.97 185.83 370.50 185.80" fill="none" stroke="#e2447f" stroke-width="1.30" stroke-linejoin="round"/>
<path d="M412.90 191.70C418.37 191.70 423.83 191.70 429.30 191.70C429.83 191.70 430.37 190.78 430.90 189.98C431.60 188.93 432.30 186.63 433.00 184.41C434.07 181.04 435.13 175.41 436.20 171.36C437.23 167.43 438.27 161.81 439.30 160.33C440.10 159.18 440.90 158.45 441.70 158.10C443.27 157.43 444.83 157.52 446.40 156.89C447.57 156.42 448.73 154.98 449.90 154.05C451.30 152.95 452.70 152.17 454.10 150.82C455.37 149.59 456.63 147.53 457.90 145.96C459.07 144.50 460.23 143.31 461.40 141.71C462.43 140.29 463.47 138.40 464.50 136.85C465.43 135.45 466.37 133.96 467.30 132.80C468.20 131.69 469.10 130.66 470.00 129.87C470.97 129.02 471.93 128.24 472.90 127.74C473.73 127.31 474.57 126.73 475.40 126.73C476.23 126.73 477.07 126.77 477.90 126.83C478.73 126.89 479.57 127.50 480.40 128.05C481.23 128.59 482.07 129.73 482.90 130.58C483.90 131.59 484.90 132.47 485.90 133.61C486.90 134.76 487.90 136.16 488.90 137.56C489.90 138.95 490.90 140.56 491.90 142.01C492.90 143.46 493.90 145.02 494.90 146.26C496.20 147.87 497.50 149.04 498.80 150.51C499.83 151.68 500.87 153.05 501.90 154.15C503.03 155.37 504.17 156.48 505.30 157.49C506.83 158.87 508.37 160.04 509.90 161.24C511.80 162.72 513.70 164.25 515.60 165.49C517.03 166.43 518.47 167.14 519.90 168.02C521.80 169.18 523.70 170.44 525.60 171.66C527.37 172.80 529.13 173.98 530.90 175.10C533.03 176.45 535.17 177.49 537.30 179.05C539.23 180.46 541.17 182.49 543.10 184.21" fill="none" stroke="#86c0f2" stroke-width="0.6"/>
<path d="M442.60 156.30C443.90 155.67 445.20 155.24 446.50 154.40C447.67 153.65 448.83 152.05 450.00 151.10C451.40 149.96 452.80 149.40 454.20 148.10C455.47 146.92 456.73 144.61 458.00 143.10C459.17 141.71 460.33 140.78 461.50 139.30C462.53 137.99 463.57 136.06 464.60 134.60C465.53 133.28 466.47 132.03 467.40 130.90C468.30 129.81 469.20 128.71 470.10 127.90C471.07 127.03 472.03 126.20 473.00 125.70C473.83 125.27 474.67 124.70 475.50 124.70C476.33 124.70 477.17 124.70 478.00 124.70C478.83 124.70 479.67 125.37 480.50 125.90C481.33 126.43 482.17 127.46 483.00 128.30C484.00 129.31 485.00 130.30 486.00 131.50C487.00 132.70 488.00 134.15 489.00 135.60C490.00 137.05 491.00 138.70 492.00 140.22C493.00 141.74 494.00 143.39 495.00 144.70C496.30 146.41 497.60 147.66 498.90 149.23C499.93 150.48 500.97 151.93 502.00 153.12C503.13 154.42 504.27 155.58 505.40 156.72C506.93 158.27 508.47 159.76 510.00 161.10C511.90 162.76 513.80 164.37 515.70 165.70C517.13 166.71 518.57 167.50 520.00 168.40C521.90 169.60 523.80 170.77 525.70 172.00C527.47 173.14 529.23 174.41 531.00 175.50C533.13 176.82 535.27 177.80 537.40 179.20C539.33 180.47 541.27 182.13 543.20 183.60" fill="none" stroke="#8f8f8f" stroke-width="0.6"/>
<path d="M442.60 157.00C443.90 156.37 445.20 155.94 446.50 155.10C447.67 154.35 448.83 152.75 450.00 151.80C451.40 150.66 452.80 150.10 454.20 148.80C455.47 147.62 456.73 145.31 458.00 143.80C459.17 142.41 460.33 141.48 461.50 140.00C462.53 138.69 463.57 136.76 464.60 135.30C465.53 133.98 466.47 132.73 467.40 131.60C468.30 130.51 469.20 129.41 470.10 128.60C471.07 127.73 472.03 126.90 473.00 126.40C473.83 125.97 474.67 125.40 475.50 125.40C476.33 125.40 477.17 125.40 478.00 125.40C478.83 125.40 479.67 126.07 480.50 126.60C481.33 127.13 482.17 128.16 483.00 129.00C484.00 130.01 485.00 131.00 486.00 132.20C487.00 133.40 488.00 134.86 489.00 136.30C490.00 137.74 491.00 139.38 492.00 140.87C493.00 142.37 494.00 143.99 495.00 145.28C496.30 146.96 497.60 148.18 498.90 149.72C499.93 150.94 500.97 152.37 502.00 153.53C503.13 154.81 504.27 155.94 505.40 157.05C506.93 158.56 508.47 160.01 510.00 161.32C511.90 162.94 513.80 164.48 515.70 165.80C517.13 166.80 518.57 167.60 520.00 168.50C521.90 169.70 523.80 170.87 525.70 172.10C527.47 173.24 529.23 174.51 531.00 175.60C533.13 176.92 535.27 177.90 537.40 179.30C539.33 180.57 541.27 182.23 543.20 183.70" fill="none" stroke="#8f8f8f" stroke-width="0.6"/>
<path d="M437.10 149.00C437.87 147.87 438.63 145.60 439.40 145.60C439.93 145.60 440.47 146.03 441.00 146.20C441.70 146.43 442.40 146.76 443.10 146.80C444.33 146.87 445.57 146.90 446.80 146.90C448.03 146.90 449.27 146.46 450.50 146.05C451.50 145.71 452.50 144.95 453.50 144.30C454.47 143.67 455.43 142.87 456.40 142.15C457.27 141.51 458.13 140.86 459.00 140.20C459.83 139.56 460.67 138.90 461.50 138.25C462.53 137.43 463.57 136.50 464.60 135.80C465.53 135.17 466.47 134.55 467.40 134.15C468.37 133.75 469.33 133.20 470.30 133.20C471.03 133.20 471.77 133.25 472.50 133.33C473.33 133.41 474.17 134.01 475.00 134.45C475.83 134.89 476.67 135.47 477.50 136.07C478.33 136.68 479.17 137.37 480.00 138.10C480.67 138.69 481.33 139.44 482.00 140.02C483.33 141.18 484.67 142.04 486.00 143.16C487.33 144.28 488.67 145.64 490.00 146.80C491.33 147.96 492.67 149.17 494.00 150.14C495.63 151.33 497.27 152.13 498.90 153.29C499.93 154.02 500.97 154.93 502.00 155.70C503.13 156.54 504.27 157.20 505.40 158.10C506.93 159.31 508.47 160.91 510.00 162.30C511.33 163.51 512.67 164.77 514.00 165.90C515.67 167.31 517.33 168.68 519.00 169.90C521.23 171.54 523.47 172.85 525.70 174.40C527.47 175.63 529.23 176.96 531.00 178.20C533.13 179.70 535.27 180.86 537.40 182.60C539.33 184.18 541.27 186.47 543.20 188.40" fill="none" stroke="#e76b9c" stroke-width="0.6"/>
<path d="M437.10 151.00C437.87 149.87 438.63 147.60 439.40 147.60C439.93 147.60 440.47 148.03 441.00 148.20C441.70 148.43 442.40 148.76 443.10 148.80C444.33 148.87 445.57 148.90 446.80 148.90C448.03 148.90 449.27 148.41 450.50 147.95C451.50 147.59 452.50 146.79 453.50 146.10C454.47 145.43 455.43 144.60 456.40 143.85C457.27 143.17 458.13 142.50 459.00 141.80C459.83 141.13 460.67 140.44 461.50 139.75C462.53 138.91 463.57 137.93 464.60 137.20C465.53 136.54 466.47 135.88 467.40 135.45C468.37 135.00 469.33 134.40 470.30 134.40C471.03 134.40 471.77 134.43 472.50 134.47C473.33 134.53 474.17 135.12 475.00 135.55C475.83 135.98 476.67 136.54 477.50 137.12C478.33 137.71 479.17 138.38 480.00 139.10C480.67 139.67 481.33 140.41 482.00 140.98C483.33 142.12 484.67 142.94 486.00 144.04C487.33 145.14 488.67 146.47 490.00 147.60C491.33 148.73 492.67 149.91 494.00 150.86C495.63 152.02 497.27 152.78 498.90 153.91C499.93 154.63 500.97 155.54 502.00 156.30C503.13 157.14 504.27 157.80 505.40 158.70C506.93 159.91 508.47 161.51 510.00 162.90C511.33 164.11 512.67 165.37 514.00 166.50C515.67 167.91 517.33 169.28 519.00 170.50C521.23 172.14 523.47 173.45 525.70 175.00C527.47 176.23 529.23 177.56 531.00 178.80C533.13 180.30 535.27 181.46 537.40 183.20C539.33 184.78 541.27 187.07 543.20 189.00" fill="none" stroke="#e76b9c" stroke-width="0.6"/>
<path d="M437.10 152.00C437.87 150.87 438.63 148.60 439.40 148.60C439.93 148.60 440.47 149.03 441.00 149.20C441.70 149.43 442.40 149.76 443.10 149.80C444.33 149.87 445.57 149.90 446.80 149.90C448.03 149.90 449.27 149.38 450.50 148.91C451.50 148.53 452.50 147.71 453.50 147.00C454.47 146.32 455.43 145.47 456.40 144.69C457.27 144.00 458.13 143.31 459.00 142.60C459.83 141.92 460.67 141.21 461.50 140.51C462.53 139.64 463.57 138.65 464.60 137.90C465.53 137.22 466.47 136.54 467.40 136.09C468.37 135.63 469.33 134.99 470.30 134.99C471.03 134.99 471.77 135.02 472.50 135.05C473.33 135.09 474.17 135.68 475.00 136.10C475.83 136.52 476.67 137.07 477.50 137.65C478.33 138.23 479.17 138.89 480.00 139.60C480.67 140.17 481.33 140.90 482.00 141.46C483.33 142.58 484.67 143.40 486.00 144.48C487.33 145.56 488.67 146.88 490.00 148.00C491.33 149.12 492.67 150.29 494.00 151.22C495.63 152.36 497.27 153.10 498.90 154.22C499.93 154.93 500.97 155.84 502.00 156.60C503.13 157.43 504.27 158.10 505.40 159.00C506.93 160.21 508.47 161.81 510.00 163.20C511.33 164.41 512.67 165.67 514.00 166.80C515.67 168.21 517.33 169.58 519.00 170.80C521.23 172.44 523.47 173.75 525.70 175.30C527.47 176.53 529.23 177.86 531.00 179.10C533.13 180.60 535.27 181.76 537.40 183.50C539.33 185.08 541.27 187.37 543.20 189.30" fill="none" stroke="#e76b9c" stroke-width="0.6"/>
<path d="M437.10 153.20C437.87 152.07 438.63 149.80 439.40 149.80C439.93 149.80 440.47 150.23 441.00 150.40C441.70 150.63 442.40 150.96 443.10 151.00C444.33 151.07 445.57 151.10 446.80 151.10C448.03 151.10 449.27 150.55 450.50 150.05C451.50 149.65 452.50 148.81 453.50 148.08C454.47 147.37 455.43 146.51 456.40 145.71C457.27 145.00 458.13 144.29 459.00 143.56C459.83 142.86 460.67 142.13 461.50 141.41C462.53 140.52 463.57 139.51 464.60 138.73C465.53 138.03 466.47 137.34 467.40 136.87C468.37 136.39 469.33 135.71 470.30 135.71C471.03 135.71 471.77 135.72 472.50 135.74C473.33 135.75 474.17 136.34 475.00 136.75C475.83 137.16 476.67 137.70 477.50 138.26C478.33 138.83 479.17 139.48 480.00 140.18C480.67 140.74 481.33 141.46 482.00 142.01C483.33 143.12 484.67 143.91 486.00 144.98C487.33 146.04 488.67 147.34 490.00 148.44C491.33 149.54 492.67 150.69 494.00 151.60C495.63 152.72 497.27 153.43 498.90 154.54C499.93 155.24 500.97 156.14 502.00 156.90C503.13 157.73 504.27 158.40 505.40 159.30C506.93 160.51 508.47 162.11 510.00 163.50C511.33 164.71 512.67 165.97 514.00 167.10C515.67 168.51 517.33 169.88 519.00 171.10C521.23 172.74 523.47 174.05 525.70 175.60C527.47 176.83 529.23 178.16 531.00 179.40C533.13 180.90 535.27 182.06 537.40 183.80C539.33 185.38 541.27 187.67 543.20 189.60" fill="none" stroke="#e76b9c" stroke-width="0.6"/>
<path d="M413.00 191.70C418.47 191.70 423.93 191.70 429.40 191.70C429.93 191.70 430.47 190.79 431.00 190.00C431.70 188.96 432.40 186.69 433.10 184.50C434.17 181.16 435.23 175.61 436.30 171.60C437.33 167.72 438.37 162.17 439.40 160.70C440.20 159.56 441.00 158.84 441.80 158.50C443.37 157.83 444.93 157.92 446.50 157.30C447.67 156.84 448.83 155.41 450.00 154.50C451.40 153.41 452.80 152.64 454.20 151.30C455.47 150.09 456.73 148.06 458.00 146.50C459.17 145.06 460.33 143.88 461.50 142.30C462.53 140.90 463.57 139.03 464.60 137.50C465.53 136.11 466.47 134.64 467.40 133.50C468.30 132.40 469.20 131.38 470.10 130.60C471.07 129.76 472.03 128.99 473.00 128.50C473.83 128.07 474.67 127.50 475.50 127.50C476.33 127.50 477.17 127.54 478.00 127.60C478.83 127.66 479.67 128.26 480.50 128.80C481.33 129.34 482.17 130.47 483.00 131.30C484.00 132.30 485.00 133.17 486.00 134.30C487.00 135.43 488.00 136.82 489.00 138.20C490.00 139.58 491.00 141.17 492.00 142.60C493.00 144.03 494.00 145.58 495.00 146.80C496.30 148.39 497.60 149.55 498.90 151.00C499.93 152.16 500.97 153.51 502.00 154.60C503.13 155.80 504.27 156.90 505.40 157.90C506.93 159.26 508.47 160.42 510.00 161.60C511.90 163.06 513.80 164.57 515.70 165.80C517.13 166.73 518.57 167.43 520.00 168.30C521.90 169.45 523.80 170.69 525.70 171.90C527.47 173.02 529.23 174.19 531.00 175.30C533.13 176.63 535.27 177.66 537.40 179.20C539.33 180.60 541.27 182.60 543.20 184.30" fill="none" stroke="#2f8ae4" stroke-width="1.30" stroke-linejoin="round"/>
<path d="M413.00 191.70C418.53 191.70 424.07 191.70 429.60 191.70C430.00 191.70 430.40 191.01 430.80 190.50C431.83 189.18 432.87 186.97 433.90 184.20C434.97 181.35 436.03 175.56 437.10 171.60C438.13 167.76 439.17 162.32 440.20 160.70C441.00 159.44 441.80 158.75 442.60 158.20C443.90 157.31 445.20 157.14 446.50 156.30C447.67 155.55 448.83 153.95 450.00 153.00C451.40 151.86 452.80 151.30 454.20 150.00C455.47 148.82 456.73 146.51 458.00 145.00C459.17 143.61 460.33 142.68 461.50 141.20C462.53 139.89 463.57 137.96 464.60 136.50C465.53 135.18 466.47 133.93 467.40 132.80C468.30 131.71 469.20 130.61 470.10 129.80C471.07 128.93 472.03 128.10 473.00 127.60C473.83 127.17 474.67 126.60 475.50 126.60C476.33 126.60 477.17 126.60 478.00 126.60C478.83 126.60 479.67 127.27 480.50 127.80C481.33 128.33 482.17 129.36 483.00 130.20C484.00 131.21 485.00 132.20 486.00 133.40C487.00 134.60 488.00 136.07 489.00 137.50C490.00 138.93 491.00 140.53 492.00 142.00C493.00 143.47 494.00 145.05 495.00 146.30C496.30 147.93 497.60 149.11 498.90 150.60C499.93 151.79 500.97 153.17 502.00 154.30C503.13 155.54 504.27 156.63 505.40 157.70C506.93 159.15 508.47 160.54 510.00 161.80C511.90 163.36 513.80 164.80 515.70 166.10C517.13 167.08 518.57 167.90 520.00 168.80C521.90 170.00 523.80 171.17 525.70 172.40C527.47 173.54 529.23 174.81 531.00 175.90C533.13 177.22 535.27 178.20 537.40 179.60C539.33 180.87 541.27 182.53 543.20 184.00" fill="none" stroke="#303030" stroke-width="1.40" stroke-linejoin="round"/>
<path d="M413.00 191.70C418.40 191.70 423.80 191.70 429.20 191.70C429.73 191.70 430.27 190.25 430.80 188.90C431.60 186.87 432.40 181.42 433.20 176.30C433.97 171.39 434.73 162.00 435.50 157.50C436.03 154.37 436.57 151.24 437.10 150.00C437.87 148.22 438.63 146.60 439.40 146.60C439.93 146.60 440.47 147.03 441.00 147.20C441.70 147.43 442.40 147.76 443.10 147.80C444.33 147.87 445.57 147.90 446.80 147.90C448.03 147.90 449.27 147.43 450.50 147.00C451.50 146.65 452.50 145.87 453.50 145.20C454.47 144.55 455.43 143.74 456.40 143.00C457.27 142.34 458.13 141.68 459.00 141.00C459.83 140.35 460.67 139.67 461.50 139.00C462.53 138.17 463.57 137.21 464.60 136.50C465.53 135.85 466.47 135.21 467.40 134.80C468.37 134.37 469.33 133.80 470.30 133.80C471.03 133.80 471.77 133.84 472.50 133.90C473.33 133.97 474.17 134.57 475.00 135.00C475.83 135.43 476.67 136.01 477.50 136.60C478.33 137.19 479.17 137.87 480.00 138.60C480.67 139.18 481.33 139.92 482.00 140.50C483.33 141.65 484.67 142.49 486.00 143.60C487.33 144.71 488.67 146.05 490.00 147.20C491.33 148.35 492.67 149.54 494.00 150.50C495.63 151.67 497.27 152.45 498.90 153.60C499.93 154.32 500.97 155.24 502.00 156.00C503.13 156.84 504.27 157.50 505.40 158.40C506.93 159.61 508.47 161.21 510.00 162.60C511.33 163.81 512.67 165.07 514.00 166.20C515.67 167.61 517.33 168.98 519.00 170.20C521.23 171.84 523.47 173.15 525.70 174.70C527.47 175.93 529.23 177.26 531.00 178.50C533.13 180.00 535.27 181.16 537.40 182.90C539.33 184.48 541.27 186.77 543.20 188.70" fill="none" stroke="#e2447f" stroke-width="1.00" stroke-linejoin="round"/>
<path d="M65.25 299.70C69.42 299.57 73.58 299.67 77.75 299.32C78.08 299.29 78.42 297.18 78.75 295.71C79.08 294.24 79.42 292.24 79.75 290.01C80.08 287.78 80.42 284.72 80.75 281.94C81.12 278.88 81.48 275.30 81.85 272.44C82.25 269.31 82.65 266.16 83.05 263.88C83.45 261.61 83.85 259.56 84.25 258.19C84.65 256.81 85.05 254.95 85.45 254.95C85.82 254.95 86.18 256.48 86.55 257.71C86.95 259.05 87.35 261.52 87.75 263.88C88.12 266.05 88.48 268.95 88.85 271.49C89.22 274.02 89.58 276.66 89.95 279.08C90.35 281.73 90.75 284.66 91.15 286.69C91.68 289.39 92.22 291.67 92.75 293.33C93.45 295.51 94.15 298.46 94.85 298.46C95.48 298.46 96.12 297.49 96.75 296.66C97.42 295.79 98.08 293.59 98.75 292.38C99.25 291.48 99.75 290.24 100.25 290.01C100.72 289.80 101.18 289.63 101.65 289.63C102.12 289.63 102.58 291.78 103.05 292.86C103.55 294.02 104.05 296.38 104.55 296.38C105.28 296.38 106.02 295.68 106.75 295.24C107.42 294.83 108.08 293.96 108.75 293.81C109.45 293.65 110.15 293.52 110.85 293.52C112.22 293.52 113.58 295.61 114.95 295.71C116.72 295.83 118.48 295.85 120.25 295.90C123.58 295.99 126.92 295.98 130.25 296.09C131.75 296.14 133.25 296.47 134.75 296.47C139.62 296.47 144.48 296.36 149.35 296.28C154.18 296.20 159.02 296.09 163.85 296.00C168.72 295.90 173.58 295.71 178.45 295.71C184.52 295.71 190.58 295.90 196.65 296.00" fill="none" stroke="#86c0f2" stroke-width="0.6"/>
<path d="M64.80 299.70C68.97 299.56 73.13 299.67 77.30 299.29C77.63 299.26 77.97 296.98 78.30 295.39C78.63 293.81 78.97 291.65 79.30 289.25C79.63 286.84 79.97 283.53 80.30 280.53C80.67 277.23 81.03 273.38 81.40 270.28C81.80 266.91 82.20 263.52 82.60 261.06C83.00 258.60 83.40 256.39 83.80 254.91C84.20 253.42 84.60 251.42 85.00 251.42C85.37 251.42 85.73 253.07 86.10 254.40C86.50 255.84 86.90 258.51 87.30 261.06C87.67 263.40 88.03 266.52 88.40 269.26C88.77 271.99 89.13 274.84 89.50 277.46C89.90 280.31 90.30 283.47 90.70 285.66C91.23 288.57 91.77 291.04 92.30 292.83C93.00 295.18 93.70 298.37 94.40 298.37C95.03 298.37 95.67 297.32 96.30 296.42C96.97 295.48 97.63 293.11 98.30 291.81C98.80 290.83 99.30 289.49 99.80 289.25C100.27 289.01 100.73 288.84 101.20 288.84C101.67 288.84 102.13 291.15 102.60 292.32C103.10 293.57 103.60 296.11 104.10 296.11C104.83 296.11 105.57 295.36 106.30 294.88C106.97 294.45 107.63 293.51 108.30 293.35C109.00 293.17 109.70 293.04 110.40 293.04C111.77 293.04 113.13 295.29 114.50 295.39C116.27 295.53 118.03 295.55 119.80 295.60C123.13 295.69 126.47 295.68 129.80 295.80C131.30 295.86 132.80 296.22 134.30 296.22C139.17 296.22 144.03 296.09 148.90 296.01C153.73 295.93 158.57 295.80 163.40 295.70C168.27 295.60 173.13 295.39 178.00 295.39C184.07 295.39 190.13 295.60 196.20 295.70" fill="none" stroke="#86c0f2" stroke-width="0.6"/>
<path d="M65.30 299.70C69.47 299.57 73.63 299.67 77.80 299.32C78.13 299.30 78.47 297.16 78.80 295.75C79.13 294.34 79.47 292.62 79.80 290.58C80.13 288.54 80.47 285.60 80.80 283.06C81.17 280.27 81.53 277.14 81.90 274.60C82.30 271.84 82.70 269.34 83.10 267.08C83.43 265.20 83.77 262.83 84.10 261.91C84.43 260.99 84.77 260.03 85.10 260.03C85.50 260.03 85.90 260.44 86.30 260.97C86.70 261.50 87.10 264.58 87.50 266.14C88.03 268.22 88.57 270.01 89.10 271.78C89.60 273.44 90.10 274.21 90.60 276.48C90.93 278.00 91.27 281.46 91.60 284.00C91.93 286.54 92.27 289.69 92.60 291.71C92.93 293.73 93.27 295.81 93.60 296.69C93.97 297.67 94.33 298.67 94.70 298.67C95.23 298.67 95.77 298.15 96.30 297.63C96.97 296.98 97.63 294.56 98.30 293.40C99.13 291.95 99.97 289.74 100.80 289.74C101.40 289.74 102.00 292.16 102.60 293.40C103.13 294.51 103.67 296.79 104.20 296.79C104.90 296.79 105.60 295.71 106.30 295.28C107.40 294.62 108.50 293.59 109.60 293.59C110.50 293.59 111.40 294.46 112.30 294.81C113.20 295.17 114.10 295.70 115.00 295.75C120.10 296.05 125.20 295.91 130.30 296.13C131.80 296.19 133.30 296.50 134.80 296.50C139.67 296.50 144.53 296.39 149.40 296.32C154.23 296.24 159.07 296.13 163.90 296.03C168.77 295.94 173.63 295.75 178.50 295.75C184.57 295.75 190.63 295.94 196.70 296.03" fill="none" stroke="#8f8f8f" stroke-width="0.6"/>
<path d="M64.75 299.70C68.92 299.56 73.08 299.67 77.25 299.29C77.58 299.26 77.92 296.93 78.25 295.39C78.58 293.86 78.92 291.98 79.25 289.76C79.58 287.53 79.92 284.32 80.25 281.56C80.62 278.52 80.98 275.10 81.35 272.33C81.75 269.32 82.15 266.60 82.55 264.13C82.88 262.08 83.22 259.50 83.55 258.50C83.88 257.49 84.22 256.44 84.55 256.44C84.95 256.44 85.35 256.89 85.75 257.47C86.15 258.05 86.55 261.41 86.95 263.11C87.48 265.37 88.02 267.33 88.55 269.26C89.05 271.07 89.55 271.90 90.05 274.38C90.38 276.04 90.72 279.82 91.05 282.58C91.38 285.35 91.72 288.79 92.05 290.99C92.38 293.19 92.72 295.45 93.05 296.42C93.42 297.48 93.78 298.57 94.15 298.57C94.68 298.57 95.22 298.01 95.75 297.44C96.42 296.74 97.08 294.10 97.75 292.83C98.58 291.25 99.42 288.84 100.25 288.84C100.85 288.84 101.45 291.47 102.05 292.83C102.58 294.04 103.12 296.52 103.65 296.52C104.35 296.52 105.05 295.34 105.75 294.88C106.85 294.16 107.95 293.04 109.05 293.04C109.95 293.04 110.85 293.98 111.75 294.37C112.65 294.76 113.55 295.34 114.45 295.39C119.55 295.72 124.65 295.57 129.75 295.80C131.25 295.87 132.75 296.22 134.25 296.22C139.12 296.22 143.98 296.09 148.85 296.01C153.68 295.93 158.52 295.80 163.35 295.70C168.22 295.60 173.08 295.39 177.95 295.39C184.02 295.39 190.08 295.60 196.15 295.70" fill="none" stroke="#8f8f8f" stroke-width="0.6"/>
<path d="M65.35 299.70C69.28 299.58 73.22 299.67 77.15 299.33C77.48 299.30 77.82 297.21 78.15 295.79C78.48 294.38 78.82 292.63 79.15 290.49C79.45 288.57 79.75 285.76 80.05 283.24C80.35 280.72 80.65 277.96 80.95 275.33C81.22 273.00 81.48 270.60 81.75 268.36C82.02 266.11 82.28 264.16 82.55 261.85C82.88 258.96 83.22 255.44 83.55 252.55C83.82 250.24 84.08 247.21 84.35 246.04C84.52 245.30 84.68 244.46 84.85 244.46C85.05 244.46 85.25 245.21 85.45 246.04C85.68 247.01 85.92 251.02 86.15 253.48C86.42 256.29 86.68 259.01 86.95 261.85C87.15 263.98 87.35 266.56 87.55 268.36C87.82 270.75 88.08 272.43 88.35 274.40C88.68 276.87 89.02 279.26 89.35 281.66C89.68 284.06 90.02 286.51 90.35 288.82C90.68 291.13 91.02 294.30 91.35 295.51C91.78 297.09 92.22 298.68 92.65 298.68C93.22 298.68 93.78 296.64 94.35 295.33C94.85 294.17 95.35 292.15 95.85 291.14C96.38 290.07 96.92 288.63 97.45 288.63C98.02 288.63 98.58 291.02 99.15 292.54C99.72 294.06 100.28 298.03 100.85 298.03C101.52 298.03 102.18 297.14 102.85 296.72C103.52 296.31 104.18 295.68 104.85 295.51C106.45 295.13 108.05 294.86 109.65 294.86C111.45 294.86 113.25 296.17 115.05 296.17C120.15 296.17 125.25 296.17 130.35 296.17C131.85 296.17 133.35 296.54 134.85 296.54C139.72 296.54 144.58 296.43 149.45 296.35C154.28 296.28 159.12 296.17 163.95 296.07C168.82 295.98 173.68 295.79 178.55 295.79C184.62 295.79 190.68 295.98 196.75 296.07" fill="none" stroke="#ec8db2" stroke-width="0.6"/>
<path d="M64.80 299.70C68.73 299.56 72.67 299.66 76.60 299.29C76.93 299.26 77.27 296.97 77.60 295.42C77.93 293.87 78.27 291.95 78.60 289.60C78.90 287.49 79.20 284.41 79.50 281.65C79.80 278.88 80.10 275.86 80.40 272.98C80.67 270.42 80.93 267.79 81.20 265.33C81.47 262.86 81.73 260.72 82.00 258.19C82.33 255.02 82.67 251.15 83.00 247.99C83.27 245.45 83.53 242.13 83.80 240.85C83.97 240.04 84.13 239.11 84.30 239.11C84.50 239.11 84.70 239.93 84.90 240.85C85.13 241.91 85.37 246.31 85.60 249.01C85.87 252.09 86.13 255.07 86.40 258.19C86.60 260.52 86.80 263.36 87.00 265.33C87.27 267.95 87.53 269.79 87.80 271.96C88.13 274.66 88.47 277.28 88.80 279.91C89.13 282.55 89.47 285.24 89.80 287.77C90.13 290.30 90.47 293.78 90.80 295.11C91.23 296.84 91.67 298.58 92.10 298.58C92.67 298.58 93.23 296.35 93.80 294.91C94.30 293.64 94.80 291.42 95.30 290.32C95.83 289.14 96.37 287.56 96.90 287.56C97.47 287.56 98.03 290.18 98.60 291.85C99.17 293.51 99.73 297.86 100.30 297.86C100.97 297.86 101.63 296.89 102.30 296.44C102.97 295.98 103.63 295.29 104.30 295.11C105.90 294.68 107.50 294.40 109.10 294.40C110.90 294.40 112.70 295.82 114.50 295.82C119.60 295.82 124.70 295.82 129.80 295.82C131.30 295.82 132.80 296.23 134.30 296.23C139.17 296.23 144.03 296.11 148.90 296.03C153.73 295.95 158.57 295.82 163.40 295.72C168.27 295.62 173.13 295.42 178.00 295.42C184.07 295.42 190.13 295.62 196.20 295.72" fill="none" stroke="#ec8db2" stroke-width="0.6"/>
<path d="M160.00 296.00C162.00 296.43 164.00 297.06 166.00 297.30C168.00 297.54 170.00 297.80 172.00 297.80C174.00 297.80 176.00 297.42 178.00 297.20C180.00 296.98 182.00 296.73 184.00 296.50" fill="none" stroke="#ec8db2" stroke-width="0.6"/>
<path d="M65.00 299.70C69.17 299.57 73.33 299.67 77.50 299.30C77.83 299.27 78.17 297.05 78.50 295.50C78.83 293.95 79.17 291.84 79.50 289.50C79.83 287.16 80.17 283.93 80.50 281.00C80.87 277.78 81.23 274.02 81.60 271.00C82.00 267.71 82.40 264.40 82.80 262.00C83.20 259.60 83.60 257.45 84.00 256.00C84.40 254.55 84.80 252.60 85.20 252.60C85.57 252.60 85.93 254.21 86.30 255.50C86.70 256.91 87.10 259.51 87.50 262.00C87.87 264.28 88.23 267.33 88.60 270.00C88.97 272.67 89.33 275.45 89.70 278.00C90.10 280.78 90.50 283.87 90.90 286.00C91.43 288.85 91.97 291.25 92.50 293.00C93.20 295.29 93.90 298.40 94.60 298.40C95.23 298.40 95.87 297.37 96.50 296.50C97.17 295.58 97.83 293.27 98.50 292.00C99.00 291.05 99.50 289.74 100.00 289.50C100.47 289.27 100.93 289.10 101.40 289.10C101.87 289.10 102.33 291.36 102.80 292.50C103.30 293.72 103.80 296.20 104.30 296.20C105.03 296.20 105.77 295.46 106.50 295.00C107.17 294.58 107.83 293.66 108.50 293.50C109.20 293.33 109.90 293.20 110.60 293.20C111.97 293.20 113.33 295.40 114.70 295.50C116.47 295.63 118.23 295.65 120.00 295.70C123.33 295.79 126.67 295.78 130.00 295.90C131.50 295.95 133.00 296.30 134.50 296.30C139.37 296.30 144.23 296.18 149.10 296.10C153.93 296.02 158.77 295.90 163.60 295.80C168.47 295.70 173.33 295.50 178.20 295.50C184.27 295.50 190.33 295.70 196.40 295.80" fill="none" stroke="#2f8ae4" stroke-width="1.30" stroke-linejoin="round"/>
<path d="M65.00 299.70C69.17 299.57 73.33 299.67 77.50 299.30C77.83 299.27 78.17 297.00 78.50 295.50C78.83 294.00 79.17 292.17 79.50 290.00C79.83 287.83 80.17 284.70 80.50 282.00C80.87 279.03 81.23 275.70 81.60 273.00C82.00 270.06 82.40 267.40 82.80 265.00C83.13 263.00 83.47 260.48 83.80 259.50C84.13 258.52 84.47 257.50 84.80 257.50C85.20 257.50 85.60 257.94 86.00 258.50C86.40 259.06 86.80 262.34 87.20 264.00C87.73 266.21 88.27 268.12 88.80 270.00C89.30 271.76 89.80 272.58 90.30 275.00C90.63 276.61 90.97 280.30 91.30 283.00C91.63 285.70 91.97 289.05 92.30 291.20C92.63 293.35 92.97 295.56 93.30 296.50C93.67 297.54 94.03 298.60 94.40 298.60C94.93 298.60 95.47 298.05 96.00 297.50C96.67 296.81 97.33 294.24 98.00 293.00C98.83 291.45 99.67 289.10 100.50 289.10C101.10 289.10 101.70 291.67 102.30 293.00C102.83 294.18 103.37 296.60 103.90 296.60C104.60 296.60 105.30 295.45 106.00 295.00C107.10 294.29 108.20 293.20 109.30 293.20C110.20 293.20 111.10 294.12 112.00 294.50C112.90 294.88 113.80 295.44 114.70 295.50C119.80 295.81 124.90 295.67 130.00 295.90C131.50 295.97 133.00 296.30 134.50 296.30C139.37 296.30 144.23 296.18 149.10 296.10C153.93 296.02 158.77 295.90 163.60 295.80C168.47 295.70 173.33 295.50 178.20 295.50C184.27 295.50 190.33 295.70 196.40 295.80" fill="none" stroke="#303030" stroke-width="1.40" stroke-linejoin="round"/>
<path d="M65.00 299.70C68.93 299.57 72.87 299.67 76.80 299.30C77.13 299.27 77.47 297.02 77.80 295.50C78.13 293.98 78.47 292.10 78.80 289.80C79.10 287.73 79.40 284.71 79.70 282.00C80.00 279.29 80.30 276.32 80.60 273.50C80.87 270.99 81.13 268.41 81.40 266.00C81.67 263.59 81.93 261.48 82.20 259.00C82.53 255.90 82.87 252.10 83.20 249.00C83.47 246.52 83.73 243.26 84.00 242.00C84.17 241.21 84.33 240.30 84.50 240.30C84.70 240.30 84.90 241.11 85.10 242.00C85.33 243.04 85.57 247.35 85.80 250.00C86.07 253.02 86.33 255.94 86.60 259.00C86.80 261.29 87.00 264.07 87.20 266.00C87.47 268.58 87.73 270.38 88.00 272.50C88.33 275.16 88.67 277.72 89.00 280.30C89.33 282.88 89.67 285.52 90.00 288.00C90.33 290.48 90.67 293.89 91.00 295.20C91.43 296.90 91.87 298.60 92.30 298.60C92.87 298.60 93.43 296.41 94.00 295.00C94.50 293.75 95.00 291.58 95.50 290.50C96.03 289.34 96.57 287.80 97.10 287.80C97.67 287.80 98.23 290.36 98.80 292.00C99.37 293.64 99.93 297.90 100.50 297.90C101.17 297.90 101.83 296.95 102.50 296.50C103.17 296.05 103.83 295.37 104.50 295.20C106.10 294.78 107.70 294.50 109.30 294.50C111.10 294.50 112.90 295.90 114.70 295.90C119.80 295.90 124.90 295.90 130.00 295.90C131.50 295.90 133.00 296.30 134.50 296.30C139.37 296.30 144.23 296.18 149.10 296.10C153.93 296.02 158.77 295.90 163.60 295.80C168.47 295.70 173.33 295.50 178.20 295.50C184.27 295.50 190.33 295.70 196.40 295.80" fill="none" stroke="#e2447f" stroke-width="1.30" stroke-linejoin="round"/>
<path d="M239.25 299.80C242.85 299.61 246.45 299.75 250.05 299.23C250.38 299.18 250.72 296.05 251.05 294.29C251.38 292.53 251.72 290.87 252.05 288.59C252.48 285.62 252.92 280.82 253.35 277.19C253.78 273.56 254.22 270.01 254.65 266.74C255.05 263.72 255.45 260.33 255.85 258.19C256.22 256.23 256.58 254.22 256.95 253.44C257.28 252.73 257.62 252.01 257.95 252.01C258.28 252.01 258.62 253.27 258.95 254.39C259.28 255.51 259.62 258.09 259.95 260.09C260.35 262.49 260.75 264.63 261.15 267.69C261.48 270.24 261.82 274.02 262.15 277.19C262.45 280.04 262.75 282.89 263.05 285.74C263.32 288.27 263.58 292.41 263.85 293.34C264.15 294.39 264.45 295.24 264.75 295.24C265.08 295.24 265.42 292.73 265.75 292.39C266.28 291.84 266.82 291.44 267.35 291.44C268.15 291.44 268.95 293.06 269.75 293.81C270.45 294.48 271.15 295.40 271.85 295.71C273.58 296.50 275.32 297.14 277.05 297.14C278.12 297.14 279.18 296.19 280.25 296.19C281.25 296.19 282.25 296.44 283.25 296.67C284.62 296.97 285.98 298.28 287.35 298.28C288.48 298.28 289.62 297.20 290.75 296.67C291.92 296.12 293.08 295.44 294.25 295.05C295.58 294.60 296.92 294.27 298.25 294.00C299.65 293.73 301.05 293.34 302.45 293.34C306.32 293.34 310.18 293.91 314.05 294.19C318.92 294.55 323.78 295.24 328.65 295.24C333.48 295.24 338.32 295.24 343.15 295.24C348.02 295.24 352.88 295.05 357.75 295.05C361.62 295.05 365.48 295.14 369.35 295.14C369.82 295.14 370.28 295.14 370.75 295.14" fill="none" stroke="#86c0f2" stroke-width="0.6"/>
<path d="M238.80 299.80C242.40 299.60 246.00 299.74 249.60 299.19C249.93 299.13 250.27 295.76 250.60 293.86C250.93 291.95 251.27 290.17 251.60 287.70C252.03 284.50 252.47 279.33 252.90 275.40C253.33 271.48 253.77 267.66 254.20 264.13C254.60 260.87 255.00 257.22 255.40 254.91C255.77 252.79 256.13 250.62 256.50 249.78C256.83 249.02 257.17 248.24 257.50 248.24C257.83 248.24 258.17 249.60 258.50 250.81C258.83 252.01 259.17 254.80 259.50 256.95C259.90 259.54 260.30 261.85 260.70 265.15C261.03 267.90 261.37 271.99 261.70 275.40C262.00 278.48 262.30 281.55 262.60 284.63C262.87 287.36 263.13 291.82 263.40 292.83C263.70 293.96 264.00 294.88 264.30 294.88C264.63 294.88 264.97 292.18 265.30 291.81C265.83 291.21 266.37 290.78 266.90 290.78C267.70 290.78 268.50 292.53 269.30 293.34C270.00 294.06 270.70 295.05 271.40 295.39C273.13 296.24 274.87 296.93 276.60 296.93C277.67 296.93 278.73 295.90 279.80 295.90C280.80 295.90 281.80 296.18 282.80 296.42C284.17 296.74 285.53 298.16 286.90 298.16C288.03 298.16 289.17 296.99 290.30 296.42C291.47 295.83 292.63 295.10 293.80 294.68C295.13 294.19 296.47 293.83 297.80 293.55C299.20 293.25 300.60 292.83 302.00 292.83C305.87 292.83 309.73 293.45 313.60 293.75C318.47 294.13 323.33 294.88 328.20 294.88C333.03 294.88 337.87 294.88 342.70 294.88C347.57 294.88 352.43 294.68 357.30 294.68C361.17 294.68 365.03 294.78 368.90 294.78C369.37 294.78 369.83 294.78 370.30 294.78" fill="none" stroke="#86c0f2" stroke-width="0.6"/>
<path d="M342.00 295.20C344.67 295.67 347.33 296.15 350.00 296.60C352.00 296.94 354.00 297.41 356.00 297.60C358.00 297.79 360.00 298.00 362.00 298.00C363.67 298.00 365.33 297.52 367.00 297.20C368.17 296.98 369.33 296.67 370.50 296.40" fill="none" stroke="#86c0f2" stroke-width="0.6"/>
<path d="M239.30 299.80C242.90 299.61 246.50 299.75 250.10 299.24C250.43 299.19 250.77 296.09 251.10 294.35C251.43 292.60 251.77 290.89 252.10 288.71C252.53 285.87 252.97 281.81 253.40 278.37C253.83 274.92 254.27 271.06 254.70 268.03C255.10 265.23 255.50 262.53 255.90 260.51C256.27 258.65 256.63 256.37 257.00 255.81C257.33 255.30 257.67 254.87 258.00 254.87C258.33 254.87 258.67 255.81 259.00 256.75C259.33 257.69 259.67 260.41 260.00 262.39C260.40 264.76 260.80 267.01 261.20 269.91C261.53 272.32 261.87 275.40 262.20 278.37C262.50 281.04 262.80 284.19 263.10 286.83C263.47 290.05 263.83 295.85 264.20 295.85C264.73 295.85 265.27 293.54 265.80 292.94C266.33 292.33 266.87 291.62 267.40 291.62C268.20 291.62 269.00 292.76 269.80 293.41C270.50 293.98 271.20 294.92 271.90 295.29C273.63 296.21 275.37 297.07 277.10 297.07C279.27 297.07 281.43 296.43 283.60 296.13C285.73 295.84 287.87 295.58 290.00 295.29C292.77 294.90 295.53 294.49 298.30 294.07C299.70 293.85 301.10 293.41 302.50 293.41C306.37 293.41 310.23 293.98 314.10 294.25C318.97 294.60 323.83 295.29 328.70 295.29C333.53 295.29 338.37 295.29 343.20 295.29C348.07 295.29 352.93 295.10 357.80 295.10C361.67 295.10 365.53 295.19 369.40 295.19C369.87 295.19 370.33 295.19 370.80 295.19" fill="none" stroke="#8f8f8f" stroke-width="0.6"/>
<path d="M238.75 299.80C242.35 299.60 245.95 299.74 249.55 299.19C249.88 299.13 250.22 295.76 250.55 293.86C250.88 291.95 251.22 290.09 251.55 287.70C251.98 284.61 252.42 280.19 252.85 276.43C253.28 272.67 253.72 268.46 254.15 265.15C254.55 262.10 254.95 259.17 255.35 256.95C255.72 254.93 256.08 252.44 256.45 251.83C256.78 251.28 257.12 250.81 257.45 250.81C257.78 250.81 258.12 251.83 258.45 252.86C258.78 253.88 259.12 256.85 259.45 259.00C259.85 261.59 260.25 264.05 260.65 267.20C260.98 269.83 261.32 273.19 261.65 276.43C261.95 279.35 262.25 282.78 262.55 285.65C262.92 289.17 263.28 295.50 263.65 295.50C264.18 295.50 264.72 292.98 265.25 292.32C265.78 291.66 266.32 290.88 266.85 290.88C267.65 290.88 268.45 292.12 269.25 292.83C269.95 293.45 270.65 294.48 271.35 294.88C273.08 295.88 274.82 296.83 276.55 296.83C278.72 296.83 280.88 296.13 283.05 295.80C285.18 295.48 287.32 295.20 289.45 294.88C292.22 294.46 294.98 294.01 297.75 293.55C299.15 293.31 300.55 292.83 301.95 292.83C305.82 292.83 309.68 293.45 313.55 293.75C318.42 294.13 323.28 294.88 328.15 294.88C332.98 294.88 337.82 294.88 342.65 294.88C347.52 294.88 352.38 294.68 357.25 294.68C361.12 294.68 364.98 294.78 368.85 294.78C369.32 294.78 369.78 294.78 370.25 294.78" fill="none" stroke="#8f8f8f" stroke-width="0.6"/>
<path d="M239.35 299.80C242.88 299.61 246.42 299.75 249.95 299.24C250.28 299.19 250.62 296.15 250.95 294.41C251.28 292.67 251.62 291.05 251.95 288.73C252.38 285.72 252.82 280.75 253.25 276.74C253.68 272.72 254.12 269.06 254.55 264.65C254.88 261.25 255.22 256.77 255.55 253.49C255.88 250.20 256.22 246.85 256.55 244.65C256.92 242.23 257.28 238.88 257.65 238.88C257.98 238.88 258.32 240.47 258.65 241.86C258.98 243.25 259.32 245.92 259.65 248.84C260.08 252.63 260.52 260.10 260.95 264.65C261.28 268.14 261.62 270.94 261.95 273.95C262.28 276.95 262.62 278.63 262.95 282.69C263.15 285.13 263.35 293.66 263.55 293.66C263.98 293.66 264.42 291.32 264.85 290.69C265.28 290.05 265.72 289.29 266.15 289.29C266.72 289.29 267.28 289.83 267.85 290.22C268.58 290.72 269.32 291.58 270.05 292.27C270.82 292.98 271.58 293.68 272.35 294.41C273.08 295.10 273.82 295.85 274.55 296.55C275.42 297.37 276.28 298.96 277.15 298.96C278.05 298.96 278.95 298.35 279.85 297.94C280.68 297.56 281.52 296.92 282.35 296.55C284.05 295.78 285.75 294.94 287.45 294.69C289.08 294.44 290.72 294.36 292.35 294.22C294.35 294.05 296.35 293.95 298.35 293.75C299.75 293.62 301.15 293.20 302.55 293.20C306.42 293.20 310.28 293.82 314.15 294.13C319.02 294.51 323.88 295.24 328.75 295.24C333.58 295.24 338.42 295.24 343.25 295.24C348.12 295.24 352.98 294.96 357.85 294.96C361.72 294.96 365.58 295.24 369.45 295.24C369.92 295.24 370.38 295.24 370.85 295.24" fill="none" stroke="#ec8db2" stroke-width="0.6"/>
<path d="M238.80 299.80C242.33 299.60 245.87 299.74 249.40 299.19C249.73 299.14 250.07 295.79 250.40 293.88C250.73 291.98 251.07 290.20 251.40 287.66C251.83 284.36 252.27 278.91 252.70 274.50C253.13 270.10 253.57 266.08 254.00 261.24C254.33 257.52 254.67 252.61 255.00 249.00C255.33 245.40 255.67 241.73 256.00 239.31C256.37 236.66 256.73 232.99 257.10 232.99C257.43 232.99 257.77 234.73 258.10 236.25C258.43 237.78 258.77 240.70 259.10 243.90C259.53 248.07 259.97 256.26 260.40 261.24C260.73 265.08 261.07 268.15 261.40 271.44C261.73 274.74 262.07 276.58 262.40 281.03C262.60 283.71 262.80 293.07 263.00 293.07C263.43 293.07 263.87 290.50 264.30 289.80C264.73 289.11 265.17 288.27 265.60 288.27C266.17 288.27 266.73 288.87 267.30 289.29C268.03 289.84 268.77 290.79 269.50 291.54C270.27 292.32 271.03 293.08 271.80 293.88C272.53 294.65 273.27 295.46 274.00 296.23C274.87 297.13 275.73 298.88 276.60 298.88C277.50 298.88 278.40 298.21 279.30 297.76C280.13 297.35 280.97 296.64 281.80 296.23C283.50 295.39 285.20 294.47 286.90 294.19C288.53 293.92 290.17 293.83 291.80 293.68C293.80 293.49 295.80 293.39 297.80 293.17C299.20 293.02 300.60 292.56 302.00 292.56C305.87 292.56 309.73 293.25 313.60 293.58C318.47 294.00 323.33 294.80 328.20 294.80C333.03 294.80 337.87 294.80 342.70 294.80C347.57 294.80 352.43 294.50 357.30 294.50C361.17 294.50 365.03 294.80 368.90 294.80C369.37 294.80 369.83 294.80 370.30 294.80" fill="none" stroke="#ec8db2" stroke-width="0.6"/>
<path d="M336.00 294.90C338.67 295.33 341.33 295.69 344.00 296.20C346.33 296.64 348.67 297.51 351.00 297.80C353.33 298.09 355.67 298.40 358.00 298.40C360.00 298.40 362.00 297.93 364.00 297.60C366.17 297.24 368.33 296.67 370.50 296.20" fill="none" stroke="#ec8db2" stroke-width="0.6"/>
<path d="M239.00 299.80C242.60 299.60 246.20 299.74 249.80 299.20C250.13 299.15 250.47 295.86 250.80 294.00C251.13 292.14 251.47 290.40 251.80 288.00C252.23 284.88 252.67 279.83 253.10 276.00C253.53 272.17 253.97 268.44 254.40 265.00C254.80 261.82 255.20 258.26 255.60 256.00C255.97 253.93 256.33 251.82 256.70 251.00C257.03 250.25 257.37 249.50 257.70 249.50C258.03 249.50 258.37 250.82 258.70 252.00C259.03 253.18 259.37 255.90 259.70 258.00C260.10 260.52 260.50 262.78 260.90 266.00C261.23 268.68 261.57 272.67 261.90 276.00C262.20 279.00 262.50 282.00 262.80 285.00C263.07 287.67 263.33 292.02 263.60 293.00C263.90 294.10 264.20 295.00 264.50 295.00C264.83 295.00 265.17 292.36 265.50 292.00C266.03 291.42 266.57 291.00 267.10 291.00C267.90 291.00 268.70 292.70 269.50 293.50C270.20 294.20 270.90 295.16 271.60 295.50C273.33 296.33 275.07 297.00 276.80 297.00C277.87 297.00 278.93 296.00 280.00 296.00C281.00 296.00 282.00 296.27 283.00 296.50C284.37 296.82 285.73 298.20 287.10 298.20C288.23 298.20 289.37 297.06 290.50 296.50C291.67 295.93 292.83 295.21 294.00 294.80C295.33 294.33 296.67 293.98 298.00 293.70C299.40 293.41 300.80 293.00 302.20 293.00C306.07 293.00 309.93 293.60 313.80 293.90C318.67 294.27 323.53 295.00 328.40 295.00C333.23 295.00 338.07 295.00 342.90 295.00C347.77 295.00 352.63 294.80 357.50 294.80C361.37 294.80 365.23 294.90 369.10 294.90C369.57 294.90 370.03 294.90 370.50 294.90" fill="none" stroke="#2f8ae4" stroke-width="1.30" stroke-linejoin="round"/>
<path d="M239.00 299.80C242.60 299.60 246.20 299.74 249.80 299.20C250.13 299.15 250.47 295.86 250.80 294.00C251.13 292.14 251.47 290.32 251.80 288.00C252.23 284.98 252.67 280.67 253.10 277.00C253.53 273.33 253.97 269.23 254.40 266.00C254.80 263.02 255.20 260.16 255.60 258.00C255.97 256.02 256.33 253.60 256.70 253.00C257.03 252.46 257.37 252.00 257.70 252.00C258.03 252.00 258.37 253.00 258.70 254.00C259.03 255.00 259.37 257.90 259.70 260.00C260.10 262.52 260.50 264.92 260.90 268.00C261.23 270.56 261.57 273.84 261.90 277.00C262.20 279.84 262.50 283.20 262.80 286.00C263.17 289.43 263.53 295.60 263.90 295.60C264.43 295.60 264.97 293.14 265.50 292.50C266.03 291.86 266.57 291.10 267.10 291.10C267.90 291.10 268.70 292.31 269.50 293.00C270.20 293.61 270.90 294.61 271.60 295.00C273.33 295.98 275.07 296.90 276.80 296.90C278.97 296.90 281.13 296.22 283.30 295.90C285.43 295.59 287.57 295.32 289.70 295.00C292.47 294.59 295.23 294.15 298.00 293.70C299.40 293.47 300.80 293.00 302.20 293.00C306.07 293.00 309.93 293.60 313.80 293.90C318.67 294.27 323.53 295.00 328.40 295.00C333.23 295.00 338.07 295.00 342.90 295.00C347.77 295.00 352.63 294.80 357.50 294.80C361.37 294.80 365.23 294.90 369.10 294.90C369.57 294.90 370.03 294.90 370.50 294.90" fill="none" stroke="#303030" stroke-width="1.40" stroke-linejoin="round"/>
<path d="M239.00 299.80C242.53 299.60 246.07 299.74 249.60 299.20C249.93 299.15 250.27 295.87 250.60 294.00C250.93 292.13 251.27 290.39 251.60 287.90C252.03 284.66 252.47 279.32 252.90 275.00C253.33 270.68 253.77 266.75 254.20 262.00C254.53 258.35 254.87 253.53 255.20 250.00C255.53 246.47 255.87 242.87 256.20 240.50C256.57 237.90 256.93 234.30 257.30 234.30C257.63 234.30 257.97 236.00 258.30 237.50C258.63 239.00 258.97 241.86 259.30 245.00C259.73 249.08 260.17 257.12 260.60 262.00C260.93 265.76 261.27 268.77 261.60 272.00C261.93 275.23 262.27 277.03 262.60 281.40C262.80 284.02 263.00 293.20 263.20 293.20C263.63 293.20 264.07 290.68 264.50 290.00C264.93 289.32 265.37 288.50 265.80 288.50C266.37 288.50 266.93 289.08 267.50 289.50C268.23 290.04 268.97 290.97 269.70 291.70C270.47 292.47 271.23 293.22 272.00 294.00C272.73 294.75 273.47 295.55 274.20 296.30C275.07 297.19 275.93 298.90 276.80 298.90C277.70 298.90 278.60 298.24 279.50 297.80C280.33 297.39 281.17 296.70 282.00 296.30C283.70 295.47 285.40 294.57 287.10 294.30C288.73 294.04 290.37 293.95 292.00 293.80C294.00 293.62 296.00 293.51 298.00 293.30C299.40 293.15 300.80 292.70 302.20 292.70C306.07 292.70 309.93 293.37 313.80 293.70C318.67 294.11 323.53 294.90 328.40 294.90C333.23 294.90 338.07 294.90 342.90 294.90C347.77 294.90 352.63 294.60 357.50 294.60C361.37 294.60 365.23 294.90 369.10 294.90C369.57 294.90 370.03 294.90 370.50 294.90" fill="none" stroke="#e2447f" stroke-width="1.30" stroke-linejoin="round"/>
<path d="M412.90 299.20C417.23 299.17 421.57 299.19 425.90 299.10C426.63 299.08 427.37 295.76 428.10 292.62C428.77 289.77 429.43 282.55 430.10 277.34C430.80 271.87 431.50 265.34 432.20 260.54C432.70 257.12 433.20 253.96 433.70 251.43C434.17 249.08 434.63 247.17 435.10 245.36C435.53 243.68 435.97 241.40 436.40 240.81C436.83 240.21 437.27 239.69 437.70 239.69C438.27 239.69 438.83 240.40 439.40 240.81C440.23 241.41 441.07 242.08 441.90 242.83C442.90 243.73 443.90 245.25 444.90 245.87C446.23 246.69 447.57 247.59 448.90 247.59C450.23 247.59 451.57 247.25 452.90 246.88C454.23 246.51 455.57 244.35 456.90 244.35C458.67 244.35 460.43 244.43 462.20 244.55C463.97 244.68 465.73 245.64 467.50 246.68C468.30 247.15 469.10 248.25 469.90 248.90C471.30 250.05 472.70 250.73 474.10 251.94C476.23 253.78 478.37 257.14 480.50 259.02C484.03 262.15 487.57 264.36 491.10 266.61C494.63 268.86 498.17 271.02 501.70 272.69C505.23 274.35 508.77 275.40 512.30 276.94C515.83 278.48 519.37 280.57 522.90 282.00C526.47 283.44 530.03 285.00 533.60 285.74C536.77 286.40 539.93 286.68 543.10 287.16" fill="none" stroke="#86c0f2" stroke-width="0.6"/>
<path d="M412.85 299.20C417.18 299.17 421.52 299.19 425.85 299.10C426.58 299.08 427.32 295.72 428.05 292.54C428.72 289.65 429.38 282.34 430.05 277.06C430.75 271.52 431.45 264.90 432.15 260.05C432.65 256.58 433.15 253.38 433.65 250.82C434.12 248.43 434.58 246.50 435.05 244.67C435.48 242.97 435.92 240.75 436.35 240.06C436.78 239.37 437.22 238.72 437.65 238.72C438.22 238.72 438.78 239.21 439.35 239.55C439.88 239.86 440.42 240.44 440.95 240.77C442.72 241.89 444.48 243.15 446.25 243.44C448.02 243.73 449.78 243.95 451.55 243.95C453.32 243.95 455.08 242.82 456.85 242.82C458.62 242.82 460.38 243.12 462.15 243.44C463.92 243.76 465.68 244.47 467.45 245.49C468.25 245.95 469.05 247.07 469.85 247.75C471.25 248.93 472.65 249.73 474.05 250.92C476.18 252.74 478.32 255.47 480.45 257.28C483.98 260.28 487.52 262.63 491.05 264.97C494.58 267.30 498.12 269.68 501.65 271.42C505.18 273.17 508.72 274.21 512.25 275.83C515.78 277.45 519.32 279.67 522.85 281.26C526.42 282.87 529.98 284.92 533.55 285.57C536.72 286.14 539.88 286.32 543.05 286.69" fill="none" stroke="#8f8f8f" stroke-width="0.6"/>
<path d="M413.10 299.20C417.43 299.17 421.77 299.19 426.10 299.10C426.83 299.09 427.57 295.84 428.30 292.76C428.97 289.97 429.63 282.91 430.30 277.82C431.00 272.46 431.70 266.07 432.40 261.38C432.90 258.03 433.40 254.94 433.90 252.47C434.37 250.17 434.83 248.30 435.30 246.53C435.73 244.89 436.17 242.74 436.60 242.08C437.03 241.41 437.47 240.79 437.90 240.79C438.47 240.79 439.03 241.26 439.60 241.58C440.13 241.89 440.67 242.44 441.20 242.77C442.97 243.85 444.73 245.07 446.50 245.34C448.27 245.62 450.03 245.84 451.80 245.84C453.57 245.84 455.33 244.75 457.10 244.75C458.87 244.75 460.63 245.04 462.40 245.34C464.17 245.65 465.93 246.34 467.70 247.32C468.50 247.77 469.30 248.85 470.10 249.50C471.50 250.65 472.90 251.42 474.30 252.57C476.43 254.32 478.57 256.96 480.70 258.71C484.23 261.61 487.77 263.87 491.30 266.13C494.83 268.39 498.37 270.68 501.90 272.37C505.43 274.06 508.97 275.06 512.50 276.63C516.03 278.19 519.57 280.34 523.10 281.88C526.67 283.43 530.23 285.41 533.80 286.03C536.97 286.59 540.13 286.76 543.30 287.12" fill="none" stroke="#8f8f8f" stroke-width="0.6"/>
<path d="M413.20 299.20C417.40 299.17 421.60 299.19 425.80 299.10C426.53 299.09 427.27 295.90 428.00 292.89C428.67 290.16 429.33 283.24 430.00 278.25C430.70 273.00 431.40 267.71 432.10 262.15C432.53 258.70 432.97 255.26 433.40 251.48C433.83 247.69 434.27 241.27 434.70 239.35C435.13 237.43 435.57 235.57 436.00 235.57C436.40 235.57 436.80 235.76 437.20 235.96C437.70 236.20 438.20 236.92 438.70 237.51C439.37 238.30 440.03 239.45 440.70 240.32C441.33 241.15 441.97 242.10 442.60 242.65C443.93 243.80 445.27 245.17 446.60 245.17C448.37 245.17 450.13 244.98 451.90 244.98C453.67 244.98 455.43 245.06 457.20 245.17C458.97 245.28 460.73 245.86 462.50 246.43C464.27 247.00 466.03 247.91 467.80 249.05C468.60 249.57 469.40 250.43 470.20 251.09C471.60 252.23 473.00 253.10 474.40 254.39C476.53 256.34 478.67 259.73 480.80 261.66C484.33 264.86 487.87 267.31 491.40 269.42C494.93 271.53 498.47 273.16 502.00 274.76C505.53 276.36 509.07 277.72 512.60 279.12C516.13 280.53 519.67 282.03 523.20 283.19C526.77 284.37 530.33 285.53 533.90 286.30C537.07 286.98 540.23 287.40 543.40 287.95" fill="none" stroke="#ec8db2" stroke-width="0.6"/>
<path d="M412.90 299.20C417.10 299.17 421.30 299.19 425.50 299.10C426.23 299.08 426.97 295.73 427.70 292.57C428.37 289.69 429.03 282.42 429.70 277.17C430.40 271.65 431.10 266.09 431.80 260.24C432.23 256.61 432.67 252.99 433.10 249.02C433.53 245.04 433.97 238.29 434.40 236.27C434.83 234.24 435.27 232.29 435.70 232.29C436.10 232.29 436.50 232.49 436.90 232.70C437.40 232.95 437.90 233.71 438.40 234.33C439.07 235.16 439.73 236.37 440.40 237.29C441.03 238.16 441.67 239.16 442.30 239.73C443.63 240.95 444.97 242.39 446.30 242.39C448.07 242.39 449.83 242.18 451.60 242.18C453.37 242.18 455.13 242.27 456.90 242.39C458.67 242.50 460.43 243.12 462.20 243.71C463.97 244.31 465.73 245.27 467.50 246.47C468.30 247.01 469.10 247.92 469.90 248.61C471.30 249.81 472.70 250.73 474.10 252.08C476.23 254.13 478.37 257.69 480.50 259.73C484.03 263.10 487.57 265.67 491.10 267.89C494.63 270.10 498.17 271.81 501.70 273.50C505.23 275.18 508.77 276.61 512.30 278.09C515.83 279.56 519.37 281.14 522.90 282.37C526.47 283.61 530.03 284.82 533.60 285.63C536.77 286.35 539.93 286.79 543.10 287.37" fill="none" stroke="#ec8db2" stroke-width="0.6"/>
<path d="M413.00 299.20C417.33 299.17 421.67 299.19 426.00 299.10C426.73 299.09 427.47 295.80 428.20 292.70C428.87 289.88 429.53 282.75 430.20 277.60C430.90 272.19 431.60 265.74 432.30 261.00C432.80 257.61 433.30 254.50 433.80 252.00C434.27 249.67 434.73 247.78 435.20 246.00C435.63 244.34 436.07 242.09 436.50 241.50C436.93 240.91 437.37 240.40 437.80 240.40C438.37 240.40 438.93 241.10 439.50 241.50C440.33 242.09 441.17 242.76 442.00 243.50C443.00 244.39 444.00 245.89 445.00 246.50C446.33 247.31 447.67 248.20 449.00 248.20C450.33 248.20 451.67 247.86 453.00 247.50C454.33 247.14 455.67 245.00 457.00 245.00C458.77 245.00 460.53 245.08 462.30 245.20C464.07 245.32 465.83 246.27 467.60 247.30C468.40 247.77 469.20 248.85 470.00 249.50C471.40 250.64 472.80 251.31 474.20 252.50C476.33 254.32 478.47 257.63 480.60 259.50C484.13 262.59 487.67 264.78 491.20 267.00C494.73 269.22 498.27 271.35 501.80 273.00C505.33 274.65 508.87 275.68 512.40 277.20C515.93 278.72 519.47 280.79 523.00 282.20C526.57 283.62 530.13 285.17 533.70 285.90C536.87 286.55 540.03 286.83 543.20 287.30" fill="none" stroke="#2f8ae4" stroke-width="1.30" stroke-linejoin="round"/>
<path d="M413.00 299.20C417.33 299.17 421.67 299.19 426.00 299.10C426.73 299.09 427.47 295.80 428.20 292.70C428.87 289.88 429.53 282.75 430.20 277.60C430.90 272.19 431.60 265.74 432.30 261.00C432.80 257.61 433.30 254.50 433.80 252.00C434.27 249.67 434.73 247.78 435.20 246.00C435.63 244.34 436.07 242.17 436.50 241.50C436.93 240.83 437.37 240.20 437.80 240.20C438.37 240.20 438.93 240.67 439.50 241.00C440.03 241.31 440.57 241.87 441.10 242.20C442.87 243.29 444.63 244.52 446.40 244.80C448.17 245.08 449.93 245.30 451.70 245.30C453.47 245.30 455.23 244.20 457.00 244.20C458.77 244.20 460.53 244.49 462.30 244.80C464.07 245.11 465.83 245.80 467.60 246.80C468.40 247.25 469.20 248.34 470.00 249.00C471.40 250.16 472.80 250.94 474.20 252.10C476.33 253.87 478.47 256.53 480.60 258.30C484.13 261.23 487.67 263.52 491.20 265.80C494.73 268.08 498.27 270.40 501.80 272.10C505.33 273.80 508.87 274.82 512.40 276.40C515.93 277.98 519.47 280.15 523.00 281.70C526.57 283.27 530.13 285.27 533.70 285.90C536.87 286.46 540.03 286.63 543.20 287.00" fill="none" stroke="#303030" stroke-width="1.40" stroke-linejoin="round"/>
<path d="M413.00 299.20C417.20 299.17 421.40 299.19 425.60 299.10C426.33 299.08 427.07 295.80 427.80 292.70C428.47 289.88 429.13 282.75 429.80 277.60C430.50 272.19 431.20 266.74 431.90 261.00C432.33 257.45 432.77 253.90 433.20 250.00C433.63 246.10 434.07 239.48 434.50 237.50C434.93 235.52 435.37 233.60 435.80 233.60C436.20 233.60 436.60 233.80 437.00 234.00C437.50 234.25 438.00 234.99 438.50 235.60C439.17 236.41 439.83 237.60 440.50 238.50C441.13 239.35 441.77 240.33 442.40 240.90C443.73 242.09 445.07 243.50 446.40 243.50C448.17 243.50 449.93 243.30 451.70 243.30C453.47 243.30 455.23 243.38 457.00 243.50C458.77 243.62 460.53 244.22 462.30 244.80C464.07 245.39 465.83 246.32 467.60 247.50C468.40 248.03 469.20 248.92 470.00 249.60C471.40 250.78 472.80 251.68 474.20 253.00C476.33 255.02 478.47 258.51 480.60 260.50C484.13 263.80 487.67 266.33 491.20 268.50C494.73 270.67 498.27 272.35 501.80 274.00C505.33 275.65 508.87 277.05 512.40 278.50C515.93 279.95 519.47 281.50 523.00 282.70C526.57 283.92 530.13 285.11 533.70 285.90C536.87 286.61 540.03 287.03 543.20 287.60" fill="none" stroke="#e2447f" stroke-width="1.30" stroke-linejoin="round"/>
<path d="M160 18.70H170.6" stroke="#6db5f2" stroke-width="1.5"/>
<text transform="translate(171.60 20.60) scale(1 1.170)" font-size="5.80">BT</text>
<path d="M160 31.40H170.6" stroke="#5a5a5a" stroke-width="1.5"/>
<text transform="translate(171.60 33.30) scale(1 1.170)" font-size="5.80">ST</text>
<path d="M160 44.00H170.6" stroke="#ec7aa7" stroke-width="1.5"/>
<text transform="translate(171.60 45.90) scale(1 1.170)" font-size="5.80">MIPS</text>
</svg></body></html>
